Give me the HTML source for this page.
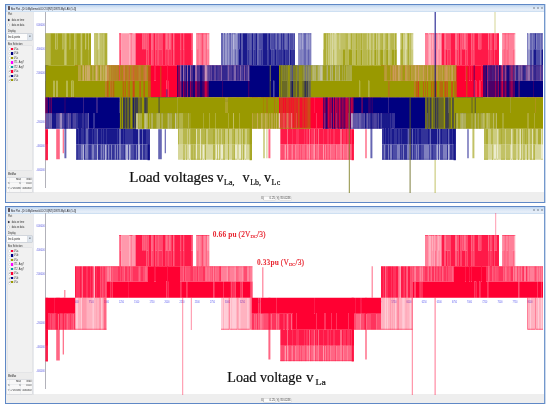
<!DOCTYPE html>
<html lang="en"><head><meta charset="utf-8"><title>Load voltages</title>
<style>
html,body{margin:0;padding:0;background:#fff}
body{width:550px;height:411px;position:relative;overflow:hidden;font-family:"Liberation Sans",sans-serif}
.win{position:absolute;left:5px;width:540px;border:1px solid #5f88c6;border-right:1px solid #7398cc;box-shadow:.6px 0 0 #a9c1e2;box-sizing:border-box;background:#fff;overflow:hidden}
.tb{position:absolute;left:0;right:0;top:0;height:6.5px;background:linear-gradient(#bcd3ee,#d9e6f5 35%,#e9f0f9 75%,#c3d9ef);box-shadow:inset .7px 0 0 #b4cdea}
.ico{position:absolute;left:1.5px;top:1.3px;width:2.3px;height:4px;background:#5c5058;border-radius:.5px}
.tt{position:absolute;left:5.2px;top:1.9px;font-size:3.5px;line-height:4px;color:#15151c;white-space:nowrap;transform:scaleX(.69);transform-origin:0 50%}
.wc{position:absolute;right:1px;top:1.6px;height:3.2px;white-space:nowrap;font-size:0}
.wc i{display:inline-block;width:2.2px;height:2.8px;margin-left:1.7px;background:#7f8896;opacity:.55}
.side{position:absolute;left:0;top:6.5px;width:27px;height:181.7px;background:#ececec;box-shadow:.6px 0 0 #d9dde3}
.lbl{position:absolute;left:1.8px;font-size:3.3px;line-height:3px;color:#2a2a2a;white-space:nowrap;transform:scaleX(.72);transform-origin:0 50%}
.lbl.b{color:#1c1c1c}
.rad{position:absolute;left:1.6px;font-size:3.2px;line-height:3px;color:#2a2a2a;white-space:nowrap;transform:scaleX(.72);transform-origin:0 50%}
.rad i{display:inline-block;width:1.7px;height:1.7px;border-radius:50%;background:#fff;box-shadow:0 0 0 .3px #9aa0a8;margin-right:3.6px;vertical-align:.1px}
.rad i.on{background:#334}
.dd{position:absolute;left:1.2px;width:25px;height:6px;background:#fcfcfc;box-shadow:0 0 0 .4px #aab4c2;font-size:3.1px;line-height:6px;color:#222}
.dd span{position:absolute;left:.8px;top:0;transform:scaleX(.72);transform-origin:0 50%}
.dd b{position:absolute;right:0;top:0;width:4.4px;height:100%;background:#dde5ee;box-shadow:-.4px 0 0 #aab4c2;font-size:2.4px;line-height:5.6px;text-align:center;color:#111;font-weight:normal}
.lst{position:absolute;left:1.6px;width:24.6px;background:#f1f1f1;box-shadow:0 0 0 .4px #dadde2}
.it{position:absolute;left:0;font-size:3.1px;line-height:3.2px;color:#2a2a2a;white-space:nowrap;height:3.2px;transform:scaleX(.74);transform-origin:0 50%}
.it u{display:inline-block;width:1.5px;height:1.5px;background:#fff;box-shadow:0 0 0 .25px #b4bac4;margin:0 1.4px 0 1.2px;vertical-align:.2px;font-size:2.6px;line-height:1.4px;text-decoration:none;color:#111;overflow:visible}
.it s{display:inline-block;width:3.1px;height:2.4px;margin-right:1.1px;vertical-align:-.2px}
.tbl{position:absolute;left:1.4px;width:25px;background:#f8f8f8;box-shadow:0 0 0 .4px #c8ced8}
.tbl .r{position:absolute;left:0;width:25px;height:4.7px;box-shadow:0 .35px 0 #d4d9e0;font-size:2.7px;line-height:4.7px;color:#333;white-space:nowrap;display:flex}
.tbl .r span{display:block;text-align:right;overflow:hidden}
.tbl .r span:nth-child(1){width:3px;text-align:center}
.tbl .r span:nth-child(2){width:10.6px;box-shadow:-.3px 0 0 #d4d9e0}
.tbl .r span:nth-child(3){width:10.6px;box-shadow:-.3px 0 0 #d4d9e0}
.plot{position:absolute;left:27.6px;top:6.5px;right:0;height:181.7px;background:#fff}
.sb{position:absolute;left:0;right:0;top:188.2px;bottom:0;background:#eeeeee;box-shadow:0 -.5px 0 #dedede;font-size:2.8px;line-height:11px;color:#444;text-align:center;white-space:nowrap}
.sb span{margin:0 .5px 0 1.6px}
.sb em{display:inline-block;font-style:normal;background:#fbfbfb;box-shadow:0 0 0 .3px #c8c8c8;width:11px;height:3.4px;line-height:3.4px;text-align:right;vertical-align:.1px}
.cv{position:absolute;left:0;top:0}
.yt{font-size:3.3px;fill:#5c5ce0;font-family:"Liberation Sans",sans-serif}
.xt{font-size:2.7px;fill:#3c3cf0;fill-opacity:.85;font-family:"Liberation Sans",sans-serif}
.cap{font-family:"Liberation Serif","DejaVu Serif",serif;fill:#111;stroke:#111;stroke-width:.22px}
.c1{font-size:14.2px}.c2{font-size:15.3px}
.c1 .sub{font-size:7.9px}.c2 .sub{font-size:8.8px}
.ann{font-family:"Liberation Serif",serif;font-weight:bold;font-size:7.4px;fill:#e8242f;letter-spacing:.12px}
.ann .n{font-weight:normal;stroke:#e8242f;stroke-width:.18px}
.ann .s{font-size:4.6px}
</style></head><body>
<div class="win" style="top:4px;height:199.0px">
<div class="tb"><span class="ico"></span><span class="tt">Box Plot - [D:\0.MyDemos\0.DC74(INT)\2INT3.MyU.AS (5.4)]</span><span class="wc"><i></i><i></i><i></i></span></div>
<div class="side">
<div class="lbl" style="top:1.5px">Plot</div>
<div class="rad" style="top:7.3px"><i class="on"></i>data vs time</div>
<div class="rad" style="top:12.4px"><i></i>data vs data</div>
<div class="lbl" style="top:18.4px">Display</div>
<div class="dd" style="top:22.3px"><span>line &amp; points</span><b>&#9660;</b></div>
<div class="lbl" style="top:31.5px">Box Selection</div>
<div class="lst" style="top:34.5px;height:124px">
<div class="it" style="top:1.90px"><u></u><s style="background:#ff0033"></s>VLa</div>
<div class="it" style="top:6.35px"><u></u><s style="background:#000080"></s>VLb</div>
<div class="it" style="top:10.80px"><u></u><s style="background:#999900"></s>VLc</div>
<div class="it" style="top:15.25px"><u></u><s style="background:#ff00ff"></s>IT1_Avg7</div>
<div class="it" style="top:19.70px"><u></u><s style="background:#009999"></s>IT2_Avg7</div>
<div class="it" style="top:24.15px"><u>&#10003;</u><s style="background:#ff0033"></s>VLa</div>
<div class="it" style="top:28.60px"><u>&#10003;</u><s style="background:#000080"></s>VLb</div>
<div class="it" style="top:33.05px"><u>&#10003;</u><s style="background:#999900"></s>VLc</div>
</div>
<div class="lbl b" style="top:161.6px">MinMax</div>
<div class="tbl" style="top:166.2px;height:14px"><div class="r" style="top:0"><span></span><span>Max</span><span>Max</span></div><div class="r" style="top:4.6px"><span>X</span><span>0</span><span>0.03</span></div><div class="r" style="top:9.3px"><span>Y</span><span>-716.6666</span><span>400000</span></div></div>
</div>
<div class="plot"></div>
<div class="sb"><span>X|</span><em>0.25</em><span>Y|</span><em>80.0246</em></div>
</div>
<div class="win" style="top:206px;height:198.4px">
<div class="tb"><span class="ico"></span><span class="tt">Box Plot - [D:\0.MyDemos\0.DC74(INT)\2INT3.MyU.AS (5.4)]</span><span class="wc"><i></i><i></i><i></i></span></div>
<div class="side">
<div class="lbl" style="top:1.5px">Plot</div>
<div class="rad" style="top:7.3px"><i class="on"></i>data vs time</div>
<div class="rad" style="top:12.4px"><i></i>data vs data</div>
<div class="lbl" style="top:18.4px">Display</div>
<div class="dd" style="top:22.3px"><span>line &amp; points</span><b>&#9660;</b></div>
<div class="lbl" style="top:31.5px">Box Selection</div>
<div class="lst" style="top:34.5px;height:124px">
<div class="it" style="top:1.90px"><u></u><s style="background:#ff0033"></s>VLa</div>
<div class="it" style="top:6.35px"><u></u><s style="background:#000080"></s>VLb</div>
<div class="it" style="top:10.80px"><u></u><s style="background:#999900"></s>VLc</div>
<div class="it" style="top:15.25px"><u></u><s style="background:#ff00ff"></s>IT1_Avg7</div>
<div class="it" style="top:19.70px"><u></u><s style="background:#009999"></s>IT2_Avg7</div>
<div class="it" style="top:24.15px"><u>&#10003;</u><s style="background:#ff0033"></s>VLa</div>
<div class="it" style="top:28.60px"><u>&#10003;</u><s style="background:#000080"></s>VLb</div>
<div class="it" style="top:33.05px"><u>&#10003;</u><s style="background:#999900"></s>VLc</div>
</div>
<div class="lbl b" style="top:161.6px">MinMax</div>
<div class="tbl" style="top:166.2px;height:14px"><div class="r" style="top:0"><span></span><span>Max</span><span>Max</span></div><div class="r" style="top:4.6px"><span>X</span><span>0</span><span>0.03</span></div><div class="r" style="top:9.3px"><span>Y</span><span>-716.6666</span><span>400000</span></div></div>
</div>
<div class="plot"></div>
<div class="sb"><span>X|</span><em>0.25</em><span>Y|</span><em>80.0246</em></div>
</div>
<svg class="cv" width="550" height="411" viewBox="0 0 550 411">
<defs><filter id="soft" x="-2%" y="-2%" width="104%" height="104%"><feGaussianBlur stdDeviation="0.45 0.12"/></filter></defs>
<g id="p1">
<rect x="45" y="12.0" width="1" height="176.0" fill="#b2b2ba"/>
<text x="44.8" y="25.7" class="yt" text-anchor="end" textLength="8.2" lengthAdjust="spacingAndGlyphs">600000</text>
<text x="44.8" y="49.9" class="yt" text-anchor="end" textLength="8.2" lengthAdjust="spacingAndGlyphs">400000</text>
<text x="44.8" y="74.1" class="yt" text-anchor="end" textLength="8.2" lengthAdjust="spacingAndGlyphs">200000</text>
<text x="44.8" y="122.5" class="yt" text-anchor="end" textLength="8.2" lengthAdjust="spacingAndGlyphs">-200000</text>
<text x="44.8" y="146.7" class="yt" text-anchor="end" textLength="8.2" lengthAdjust="spacingAndGlyphs">-400000</text>
<text x="44.8" y="170.9" class="yt" text-anchor="end" textLength="8.2" lengthAdjust="spacingAndGlyphs">-600000</text>
<text x="61.1" y="101.9" class="xt" text-anchor="middle" textLength="5" lengthAdjust="spacingAndGlyphs">250</text>
<text x="76.2" y="101.9" class="xt" text-anchor="middle" textLength="5" lengthAdjust="spacingAndGlyphs">500</text>
<text x="91.3" y="101.9" class="xt" text-anchor="middle" textLength="5" lengthAdjust="spacingAndGlyphs">750</text>
<text x="106.5" y="101.9" class="xt" text-anchor="middle" textLength="5" lengthAdjust="spacingAndGlyphs">1000</text>
<text x="121.6" y="101.9" class="xt" text-anchor="middle" textLength="5" lengthAdjust="spacingAndGlyphs">1250</text>
<text x="136.7" y="101.9" class="xt" text-anchor="middle" textLength="5" lengthAdjust="spacingAndGlyphs">1500</text>
<text x="151.9" y="101.9" class="xt" text-anchor="middle" textLength="5" lengthAdjust="spacingAndGlyphs">1750</text>
<text x="167.0" y="101.9" class="xt" text-anchor="middle" textLength="5" lengthAdjust="spacingAndGlyphs">2000</text>
<text x="182.1" y="101.9" class="xt" text-anchor="middle" textLength="5" lengthAdjust="spacingAndGlyphs">2250</text>
<text x="197.2" y="101.9" class="xt" text-anchor="middle" textLength="5" lengthAdjust="spacingAndGlyphs">2500</text>
<text x="212.4" y="101.9" class="xt" text-anchor="middle" textLength="5" lengthAdjust="spacingAndGlyphs">2750</text>
<text x="227.5" y="101.9" class="xt" text-anchor="middle" textLength="5" lengthAdjust="spacingAndGlyphs">3000</text>
<text x="242.6" y="101.9" class="xt" text-anchor="middle" textLength="5" lengthAdjust="spacingAndGlyphs">3250</text>
<text x="257.8" y="101.9" class="xt" text-anchor="middle" textLength="5" lengthAdjust="spacingAndGlyphs">3500</text>
<text x="272.9" y="101.9" class="xt" text-anchor="middle" textLength="5" lengthAdjust="spacingAndGlyphs">3750</text>
<text x="288.0" y="101.9" class="xt" text-anchor="middle" textLength="5" lengthAdjust="spacingAndGlyphs">4000</text>
<text x="303.2" y="101.9" class="xt" text-anchor="middle" textLength="5" lengthAdjust="spacingAndGlyphs">4250</text>
<text x="318.3" y="101.9" class="xt" text-anchor="middle" textLength="5" lengthAdjust="spacingAndGlyphs">4500</text>
<text x="333.4" y="101.9" class="xt" text-anchor="middle" textLength="5" lengthAdjust="spacingAndGlyphs">4750</text>
<text x="348.6" y="101.9" class="xt" text-anchor="middle" textLength="5" lengthAdjust="spacingAndGlyphs">5000</text>
<text x="363.7" y="101.9" class="xt" text-anchor="middle" textLength="5" lengthAdjust="spacingAndGlyphs">5250</text>
<text x="378.8" y="101.9" class="xt" text-anchor="middle" textLength="5" lengthAdjust="spacingAndGlyphs">5500</text>
<text x="393.9" y="101.9" class="xt" text-anchor="middle" textLength="5" lengthAdjust="spacingAndGlyphs">5750</text>
<text x="409.1" y="101.9" class="xt" text-anchor="middle" textLength="5" lengthAdjust="spacingAndGlyphs">6000</text>
<text x="424.2" y="101.9" class="xt" text-anchor="middle" textLength="5" lengthAdjust="spacingAndGlyphs">6250</text>
<text x="439.3" y="101.9" class="xt" text-anchor="middle" textLength="5" lengthAdjust="spacingAndGlyphs">6500</text>
<text x="454.5" y="101.9" class="xt" text-anchor="middle" textLength="5" lengthAdjust="spacingAndGlyphs">6750</text>
<text x="469.6" y="101.9" class="xt" text-anchor="middle" textLength="5" lengthAdjust="spacingAndGlyphs">7000</text>
<text x="484.7" y="101.9" class="xt" text-anchor="middle" textLength="5" lengthAdjust="spacingAndGlyphs">7250</text>
<text x="499.9" y="101.9" class="xt" text-anchor="middle" textLength="5" lengthAdjust="spacingAndGlyphs">7500</text>
<text x="515.0" y="101.9" class="xt" text-anchor="middle" textLength="5" lengthAdjust="spacingAndGlyphs">7750</text>
<text x="530.1" y="101.9" class="xt" text-anchor="middle" textLength="5" lengthAdjust="spacingAndGlyphs">8000</text>
<g filter="url(#soft)">
<path fill="#ff0033" fill-opacity="0.1" d="M75.0 65.2h18.0v1h-18.0zM95.0 65.2h11.5v1h-11.5zM381.0 65.2h18.0v1h-18.0zM401.0 65.2h11.5v1h-11.5z"/>
<path fill="#ff0033" fill-opacity="0.2" d="M76.0 97.2h2.0v31.5h-2.0zM80.9 97.2h1.0v31.5h-1.0zM92.7 97.2h1.0v31.5h-1.0zM100.6 97.2h1.0v31.5h-1.0zM221.0 97.2h2.0v31.5h-2.0zM224.1 97.2h4.1v31.5h-4.1zM230.2 97.2h1.0v31.5h-1.0zM232.2 97.2h4.1v31.5h-4.1zM239.3 97.2h1.0v31.5h-1.0zM247.4 97.2h1.0v31.5h-1.0zM384.9 97.2h1.0v31.5h-1.0zM386.9 97.2h1.0v31.5h-1.0zM394.8 97.2h1.0v31.5h-1.0zM402.7 97.2h2.0v31.5h-2.0zM409.5 97.2h2.0v31.5h-2.0zM530.0 97.2h1.0v31.5h-1.0zM538.0 97.2h1.0v31.5h-1.0zM541.0 97.2h1.0v31.5h-1.0zM48.0 127.7h27.0v1h-27.0zM135.5 33.2h57.5v1h-57.5zM119.0 65.2h29.0v1h-29.0zM180.0 65.2h29.3v1h-29.3zM251.5 127.7h28.5v1h-28.5zM354.0 127.7h27.0v1h-27.0zM441.5 33.2h57.5v1h-57.5zM425.0 65.2h29.0v1h-29.0zM486.0 65.2h29.3v1h-29.3z"/>
<path fill="#ff0033" fill-opacity="0.3" d="M94.0 65.2h1.0v32.0h-1.0zM78.0 97.2h3.0v31.5h-3.0zM86.8 97.2h5.9v31.5h-5.9zM93.7 97.2h2.0v31.5h-2.0zM96.7 97.2h3.0v31.5h-3.0zM101.6 97.2h2.0v31.5h-2.0zM129.3 33.2h1.0v16.0h-1.0zM129.3 49.2h1.0v16.0h-1.0zM207.3 33.2h1.0v16.0h-1.0zM223.0 97.2h1.0v31.5h-1.0zM228.1 97.2h1.0v31.5h-1.0zM231.2 97.2h1.0v31.5h-1.0zM236.2 97.2h1.0v31.5h-1.0zM238.3 97.2h1.0v31.5h-1.0zM240.3 97.2h7.1v31.5h-7.1zM248.4 97.2h1.0v31.5h-1.0zM381.0 97.2h3.9v31.5h-3.9zM385.9 97.2h1.0v31.5h-1.0zM387.9 97.2h2.0v31.5h-2.0zM390.8 97.2h1.0v31.5h-1.0zM392.8 97.2h1.0v31.5h-1.0zM395.8 97.2h1.0v31.5h-1.0zM398.7 97.2h3.9v31.5h-3.9zM404.6 97.2h1.0v31.5h-1.0zM406.6 97.2h3.0v31.5h-3.0zM429.1 33.2h2.1v16.0h-2.1zM432.2 33.2h1.0v16.0h-1.0zM438.4 33.2h1.0v16.0h-1.0zM429.1 49.2h2.1v16.0h-2.1zM514.3 33.2h1.0v16.0h-1.0zM528.0 97.2h2.0v31.5h-2.0zM531.0 97.2h4.0v31.5h-4.0zM536.0 97.2h2.0v31.5h-2.0zM539.0 97.2h2.0v31.5h-2.0zM542.0 97.2h1.0v31.5h-1.0zM45.5 158.7h2.5v1h-2.5zM106.5 65.2h12.5v1h-12.5zM209.3 65.2h11.7v1h-11.7zM221.0 65.2h31.5v1h-31.5zM280.0 158.7h74.0v1h-74.0zM412.5 65.2h12.5v1h-12.5zM515.3 65.2h11.7v1h-11.7zM527.0 65.2h16.0v1h-16.0z"/>
<path fill="#ff0033" fill-opacity="0.4" d="M75.0 97.2h1.0v31.5h-1.0zM81.9 97.2h4.9v31.5h-4.9zM95.7 97.2h1.0v31.5h-1.0zM121.1 33.2h8.2v16.0h-8.2zM132.4 33.2h3.1v16.0h-3.1zM121.1 49.2h8.2v16.0h-8.2zM132.4 49.2h3.1v16.0h-3.1zM226.9 65.2h1.0v15.5h-1.0zM234.8 65.2h1.0v15.5h-1.0zM285.0 144.5h1.0v15.3h-1.0zM287.0 144.5h1.0v15.3h-1.0zM309.0 144.5h1.0v15.3h-1.0zM314.0 144.5h1.0v15.3h-1.0zM323.0 144.5h1.0v15.3h-1.0zM400.0 65.2h1.0v32.0h-1.0zM389.9 97.2h1.0v31.5h-1.0zM391.8 97.2h1.0v31.5h-1.0zM393.8 97.2h1.0v31.5h-1.0zM396.8 97.2h1.0v31.5h-1.0zM405.6 97.2h1.0v31.5h-1.0zM411.5 97.2h1.0v31.5h-1.0zM428.1 33.2h1.0v16.0h-1.0zM434.3 33.2h1.0v16.0h-1.0zM437.4 33.2h1.0v16.0h-1.0zM440.5 33.2h1.0v16.0h-1.0zM428.1 49.2h1.0v16.0h-1.0zM432.2 49.2h1.0v16.0h-1.0zM434.3 49.2h1.0v16.0h-1.0zM437.4 49.2h2.1v16.0h-2.1zM440.5 49.2h1.0v16.0h-1.0zM514.3 49.2h1.0v16.0h-1.0zM119.0 33.2h16.5v1h-16.5zM196.3 33.2h13.0v1h-13.0zM425.0 33.2h16.5v1h-16.5zM502.3 33.2h13.0v1h-13.0zM262.0 66.2h1.5v31.0h-1.5zM371.5 65.2h1.5v32.0h-1.5z"/>
<path fill="#ff0033" fill-opacity="0.5" d="M45.5 144.5h1.2v15.3h-1.2zM107.5 65.2h1.0v15.5h-1.0zM109.6 65.2h1.0v15.5h-1.0zM119.0 33.2h1.0v16.0h-1.0zM130.3 33.2h2.1v16.0h-2.1zM119.0 49.2h1.0v16.0h-1.0zM130.3 49.2h2.1v16.0h-2.1zM197.3 33.2h1.0v16.0h-1.0zM199.3 33.2h2.0v16.0h-2.0zM204.3 33.2h1.0v16.0h-1.0zM208.3 33.2h1.0v16.0h-1.0zM199.3 49.2h2.0v16.0h-2.0zM204.3 49.2h1.0v16.0h-1.0zM207.3 49.2h1.0v16.0h-1.0zM213.2 65.2h1.0v15.5h-1.0zM221.0 65.2h5.9v15.5h-5.9zM229.9 65.2h4.9v15.5h-4.9zM238.7 65.2h3.9v15.5h-3.9zM247.6 65.2h1.0v15.5h-1.0zM250.5 65.2h2.0v15.5h-2.0zM229.1 97.2h1.0v31.5h-1.0zM237.3 97.2h1.0v31.5h-1.0zM249.5 97.2h2.0v31.5h-2.0zM280.0 144.5h1.0v15.3h-1.0zM292.0 144.5h1.0v15.3h-1.0zM295.0 144.5h1.0v15.3h-1.0zM307.0 144.5h1.0v15.3h-1.0zM313.0 144.5h1.0v15.3h-1.0zM318.0 144.5h1.0v15.3h-1.0zM325.0 144.5h1.0v15.3h-1.0zM330.0 144.5h1.0v15.3h-1.0zM336.0 144.5h1.0v15.3h-1.0zM340.0 144.5h2.0v15.3h-2.0zM343.0 144.5h1.0v15.3h-1.0zM347.0 144.5h1.0v15.3h-1.0zM351.0 144.5h1.0v15.3h-1.0zM360.0 113.0h1.0v15.8h-1.0zM399.0 65.2h1.0v32.0h-1.0zM414.6 65.2h1.0v15.5h-1.0zM419.8 65.2h1.0v15.5h-1.0zM421.9 65.2h1.0v15.5h-1.0zM425.0 33.2h3.1v16.0h-3.1zM431.2 33.2h1.0v16.0h-1.0zM433.2 33.2h1.0v16.0h-1.0zM435.3 33.2h2.1v16.0h-2.1zM439.4 33.2h1.0v16.0h-1.0zM425.0 49.2h3.1v16.0h-3.1zM431.2 49.2h1.0v16.0h-1.0zM433.2 49.2h1.0v16.0h-1.0zM436.3 49.2h1.0v16.0h-1.0zM439.4 49.2h1.0v16.0h-1.0zM455.4 33.2h1.0v16.0h-1.0zM503.3 33.2h1.0v16.0h-1.0zM506.3 33.2h2.0v16.0h-2.0zM509.3 33.2h5.0v16.0h-5.0zM509.3 49.2h3.0v16.0h-3.0zM515.3 65.2h1.0v15.5h-1.0zM521.1 65.2h1.0v15.5h-1.0zM524.1 65.2h2.0v15.5h-2.0zM528.0 65.2h1.0v15.5h-1.0zM530.0 65.2h4.0v15.5h-4.0zM537.0 65.2h1.0v15.5h-1.0zM539.0 65.2h1.0v15.5h-1.0zM541.0 65.2h1.0v15.5h-1.0zM527.0 97.2h1.0v31.5h-1.0zM535.0 97.2h1.0v31.5h-1.0zM75.0 127.7h31.5v1h-31.5zM221.0 127.7h30.5v1h-30.5zM381.0 127.7h31.5v1h-31.5zM527.0 127.7h16.0v1h-16.0zM64.2 89.2h1.2v8.0h-1.2z"/>
<path fill="#ff0033" fill-opacity="0.6" d="M46.8 144.5h1.2v15.3h-1.2zM58.0 113.0h1.0v15.8h-1.0zM67.0 113.0h1.0v15.8h-1.0zM73.0 113.0h1.0v15.8h-1.0zM82.0 65.2h1.0v32.0h-1.0zM93.0 65.2h1.0v32.0h-1.0zM99.6 97.2h1.0v31.5h-1.0zM103.5 97.2h3.0v31.5h-3.0zM120.0 33.2h1.0v16.0h-1.0zM151.4 33.2h2.0v16.0h-2.0zM166.2 33.2h1.0v16.0h-1.0zM169.2 33.2h1.0v16.0h-1.0zM173.2 33.2h1.0v16.0h-1.0zM192.0 33.2h1.0v16.0h-1.0zM196.3 33.2h1.0v16.0h-1.0zM198.3 33.2h1.0v16.0h-1.0zM203.3 33.2h1.0v16.0h-1.0zM205.3 33.2h2.0v16.0h-2.0zM196.3 49.2h1.0v16.0h-1.0zM198.3 49.2h1.0v16.0h-1.0zM203.3 49.2h1.0v16.0h-1.0zM205.3 49.2h2.0v16.0h-2.0zM208.3 49.2h1.0v16.0h-1.0zM124.0 65.2h1.0v15.5h-1.0zM130.0 65.2h1.0v15.5h-1.0zM139.0 65.2h1.0v15.5h-1.0zM145.0 65.2h2.0v15.5h-2.0zM183.0 65.2h1.0v15.5h-1.0zM206.3 65.2h2.0v15.5h-2.0zM209.3 65.2h1.0v15.5h-1.0zM211.2 65.2h1.0v15.5h-1.0zM215.2 65.2h3.9v15.5h-3.9zM227.9 65.2h2.0v15.5h-2.0zM236.8 65.2h2.0v15.5h-2.0zM242.7 65.2h1.0v15.5h-1.0zM248.6 65.2h1.0v15.5h-1.0zM260.7 113.0h1.0v15.8h-1.0zM275.9 113.0h1.0v15.8h-1.0zM287.0 113.0h1.0v15.8h-1.0zM291.0 113.0h1.0v15.8h-1.0zM280.0 128.7h1.0v15.8h-1.0zM287.0 128.7h1.0v15.8h-1.0zM309.0 128.7h1.0v15.8h-1.0zM314.0 128.7h1.0v15.8h-1.0zM318.0 128.7h1.0v15.8h-1.0zM340.0 128.7h2.0v15.8h-2.0zM284.0 144.5h1.0v15.3h-1.0zM288.0 144.5h1.0v15.3h-1.0zM291.0 144.5h1.0v15.3h-1.0zM296.0 144.5h3.0v15.3h-3.0zM300.0 144.5h1.0v15.3h-1.0zM302.0 144.5h3.0v15.3h-3.0zM306.0 144.5h1.0v15.3h-1.0zM308.0 144.5h1.0v15.3h-1.0zM311.0 144.5h2.0v15.3h-2.0zM316.0 144.5h2.0v15.3h-2.0zM327.0 144.5h2.0v15.3h-2.0zM331.0 144.5h4.0v15.3h-4.0zM337.0 144.5h3.0v15.3h-3.0zM344.0 144.5h3.0v15.3h-3.0zM348.0 144.5h3.0v15.3h-3.0zM352.0 144.5h2.0v15.3h-2.0zM356.0 113.0h4.0v15.8h-4.0zM366.0 113.0h1.0v15.8h-1.0zM376.0 113.0h1.0v15.8h-1.0zM385.0 65.2h1.0v32.0h-1.0zM398.0 65.2h1.0v32.0h-1.0zM406.8 65.2h1.0v32.0h-1.0zM397.7 97.2h1.0v31.5h-1.0zM444.5 33.2h1.0v16.0h-1.0zM464.3 33.2h1.0v16.0h-1.0zM471.2 33.2h1.0v16.0h-1.0zM488.1 33.2h1.0v16.0h-1.0zM494.0 33.2h1.0v16.0h-1.0zM502.3 33.2h1.0v16.0h-1.0zM504.3 33.2h1.0v16.0h-1.0zM503.3 49.2h2.0v16.0h-2.0zM506.3 49.2h2.0v16.0h-2.0zM512.3 49.2h2.0v16.0h-2.0zM428.0 65.2h1.0v15.5h-1.0zM431.0 65.2h1.0v15.5h-1.0zM434.0 65.2h1.0v15.5h-1.0zM442.0 65.2h1.0v15.5h-1.0zM452.0 65.2h1.0v15.5h-1.0zM488.0 65.2h1.0v15.5h-1.0zM505.2 65.2h1.0v15.5h-1.0zM513.3 65.2h1.0v15.5h-1.0zM516.3 65.2h1.0v15.5h-1.0zM518.2 65.2h2.0v15.5h-2.0zM527.0 65.2h1.0v15.5h-1.0zM529.0 65.2h1.0v15.5h-1.0zM534.0 65.2h1.0v15.5h-1.0zM536.0 65.2h1.0v15.5h-1.0zM538.0 65.2h1.0v15.5h-1.0zM540.0 65.2h1.0v15.5h-1.0zM542.0 65.2h1.0v15.5h-1.0zM56.2 97.2h3.6v62.1h-3.6zM62.7 97.2h1.2v56.1h-1.2zM268.4 97.2h2.0v61.1h-2.0zM365.3 97.2h1.4v61.1h-1.4z"/>
<path fill="#ff0033" fill-opacity="0.7" d="M50.0 113.0h1.0v15.8h-1.0zM52.0 113.0h3.0v15.8h-3.0zM57.0 113.0h1.0v15.8h-1.0zM60.0 113.0h5.0v15.8h-5.0zM66.0 113.0h1.0v15.8h-1.0zM68.0 113.0h2.0v15.8h-2.0zM71.0 113.0h2.0v15.8h-2.0zM106.5 65.2h1.0v15.5h-1.0zM110.7 65.2h2.1v15.5h-2.1zM113.8 65.2h4.2v15.5h-4.2zM120.0 49.2h1.0v16.0h-1.0zM142.4 33.2h1.0v16.0h-1.0zM144.4 33.2h1.0v16.0h-1.0zM146.4 33.2h2.0v16.0h-2.0zM155.3 33.2h2.0v16.0h-2.0zM158.3 33.2h4.0v16.0h-4.0zM165.2 33.2h1.0v16.0h-1.0zM167.2 33.2h2.0v16.0h-2.0zM170.2 33.2h1.0v16.0h-1.0zM180.1 33.2h1.0v16.0h-1.0zM183.1 33.2h1.0v16.0h-1.0zM191.0 33.2h1.0v16.0h-1.0zM151.4 49.2h2.0v16.0h-2.0zM173.2 49.2h1.0v16.0h-1.0zM192.0 49.2h1.0v16.0h-1.0zM201.3 33.2h2.0v16.0h-2.0zM197.3 49.2h1.0v16.0h-1.0zM201.3 49.2h2.0v16.0h-2.0zM120.0 65.2h1.0v15.5h-1.0zM122.0 65.2h2.0v15.5h-2.0zM127.0 65.2h2.0v15.5h-2.0zM131.0 65.2h2.0v15.5h-2.0zM138.0 65.2h1.0v15.5h-1.0zM140.0 65.2h1.0v15.5h-1.0zM143.0 65.2h2.0v15.5h-2.0zM147.0 65.2h1.0v15.5h-1.0zM180.0 65.2h3.0v15.5h-3.0zM185.1 65.2h5.1v15.5h-5.1zM193.1 65.2h3.0v15.5h-3.0zM198.2 65.2h4.0v15.5h-4.0zM205.3 65.2h1.0v15.5h-1.0zM208.3 65.2h1.0v15.5h-1.0zM235.8 65.2h1.0v15.5h-1.0zM243.6 65.2h3.9v15.5h-3.9zM249.5 65.2h1.0v15.5h-1.0zM254.6 113.0h2.0v15.8h-2.0zM258.6 113.0h2.0v15.8h-2.0zM261.7 113.0h1.0v15.8h-1.0zM263.7 113.0h8.1v15.8h-8.1zM276.9 113.0h2.0v15.8h-2.0zM281.0 144.5h3.0v15.3h-3.0zM286.0 144.5h1.0v15.3h-1.0zM289.0 144.5h2.0v15.3h-2.0zM293.0 144.5h2.0v15.3h-2.0zM299.0 144.5h1.0v15.3h-1.0zM301.0 144.5h1.0v15.3h-1.0zM305.0 144.5h1.0v15.3h-1.0zM310.0 144.5h1.0v15.3h-1.0zM315.0 144.5h1.0v15.3h-1.0zM319.0 144.5h4.0v15.3h-4.0zM324.0 144.5h1.0v15.3h-1.0zM326.0 144.5h1.0v15.3h-1.0zM329.0 144.5h1.0v15.3h-1.0zM335.0 144.5h1.0v15.3h-1.0zM342.0 144.5h1.0v15.3h-1.0zM354.0 113.0h2.0v15.8h-2.0zM361.0 113.0h3.0v15.8h-3.0zM367.0 113.0h4.0v15.8h-4.0zM377.0 113.0h4.0v15.8h-4.0zM412.5 65.2h2.1v15.5h-2.1zM415.6 65.2h4.2v15.5h-4.2zM420.8 65.2h1.0v15.5h-1.0zM422.9 65.2h2.1v15.5h-2.1zM435.3 49.2h1.0v16.0h-1.0zM445.5 33.2h5.0v16.0h-5.0zM456.4 33.2h2.0v16.0h-2.0zM460.3 33.2h1.0v16.0h-1.0zM462.3 33.2h2.0v16.0h-2.0zM465.3 33.2h2.0v16.0h-2.0zM473.2 33.2h1.0v16.0h-1.0zM478.2 33.2h3.0v16.0h-3.0zM490.1 33.2h2.0v16.0h-2.0zM495.0 33.2h2.0v16.0h-2.0zM455.4 49.2h1.0v16.0h-1.0zM471.2 49.2h1.0v16.0h-1.0zM494.0 49.2h1.0v16.0h-1.0zM505.3 33.2h1.0v16.0h-1.0zM508.3 33.2h1.0v16.0h-1.0zM502.3 49.2h1.0v16.0h-1.0zM505.3 49.2h1.0v16.0h-1.0zM508.3 49.2h1.0v16.0h-1.0zM427.0 65.2h1.0v15.5h-1.0zM430.0 65.2h1.0v15.5h-1.0zM436.0 65.2h2.0v15.5h-2.0zM439.0 65.2h2.0v15.5h-2.0zM443.0 65.2h1.0v15.5h-1.0zM446.0 65.2h1.0v15.5h-1.0zM448.0 65.2h4.0v15.5h-4.0zM453.0 65.2h1.0v15.5h-1.0zM489.0 65.2h1.0v15.5h-1.0zM492.1 65.2h2.0v15.5h-2.0zM495.1 65.2h3.0v15.5h-3.0zM503.2 65.2h2.0v15.5h-2.0zM506.2 65.2h2.0v15.5h-2.0zM509.2 65.2h1.0v15.5h-1.0zM535.0 65.2h1.0v15.5h-1.0z"/>
<path fill="#ff0033" fill-opacity="0.8" d="M48.0 113.0h2.0v15.8h-2.0zM51.0 113.0h1.0v15.8h-1.0zM55.0 113.0h2.0v15.8h-2.0zM59.0 113.0h1.0v15.8h-1.0zM65.0 113.0h1.0v15.8h-1.0zM70.0 113.0h1.0v15.8h-1.0zM74.0 113.0h1.0v15.8h-1.0zM76.0 65.2h4.0v32.0h-4.0zM81.0 65.2h1.0v32.0h-1.0zM86.0 65.2h2.0v32.0h-2.0zM90.0 65.2h1.0v32.0h-1.0zM92.0 65.2h1.0v32.0h-1.0zM96.0 65.2h1.0v32.0h-1.0zM100.8 65.2h1.9v32.0h-1.9zM103.6 65.2h1.9v32.0h-1.9zM108.6 65.2h1.0v15.5h-1.0zM112.8 65.2h1.0v15.5h-1.0zM118.0 65.2h1.0v15.5h-1.0zM146.4 49.2h2.0v16.0h-2.0zM155.3 49.2h2.0v16.0h-2.0zM158.3 49.2h4.0v16.0h-4.0zM165.2 49.2h2.0v16.0h-2.0zM168.2 49.2h3.0v16.0h-3.0zM180.1 49.2h1.0v16.0h-1.0zM183.1 49.2h1.0v16.0h-1.0zM191.0 49.2h1.0v16.0h-1.0zM119.0 65.2h1.0v15.5h-1.0zM121.0 65.2h1.0v15.5h-1.0zM125.0 65.2h2.0v15.5h-2.0zM129.0 65.2h1.0v15.5h-1.0zM133.0 65.2h5.0v15.5h-5.0zM141.0 65.2h2.0v15.5h-2.0zM184.0 65.2h1.0v15.5h-1.0zM190.1 65.2h3.0v15.5h-3.0zM196.2 65.2h2.0v15.5h-2.0zM202.2 65.2h3.0v15.5h-3.0zM210.3 65.2h1.0v15.5h-1.0zM212.2 65.2h1.0v15.5h-1.0zM214.2 65.2h1.0v15.5h-1.0zM219.1 65.2h1.9v15.5h-1.9zM213.2 80.7h1.0v16.5h-1.0zM223.0 80.7h1.0v16.5h-1.0zM230.8 80.7h1.0v16.5h-1.0zM232.8 80.7h3.0v16.5h-3.0zM240.7 80.7h2.0v16.5h-2.0zM250.5 80.7h1.0v16.5h-1.0zM251.5 113.0h3.1v15.8h-3.1zM256.6 113.0h2.0v15.8h-2.0zM262.7 113.0h1.0v15.8h-1.0zM271.9 113.0h4.1v15.8h-4.1zM279.0 113.0h1.0v15.8h-1.0zM283.0 113.0h2.0v15.8h-2.0zM286.0 113.0h1.0v15.8h-1.0zM288.0 113.0h1.0v15.8h-1.0zM296.0 113.0h1.0v15.8h-1.0zM316.0 113.0h1.0v15.8h-1.0zM324.0 113.0h2.0v15.8h-2.0zM331.0 113.0h1.0v15.8h-1.0zM336.0 113.0h1.0v15.8h-1.0zM348.0 113.0h1.0v15.8h-1.0zM292.0 128.7h1.0v15.8h-1.0zM296.0 128.7h3.0v15.8h-3.0zM304.0 128.7h1.0v15.8h-1.0zM306.0 128.7h2.0v15.8h-2.0zM311.0 128.7h3.0v15.8h-3.0zM316.0 128.7h1.0v15.8h-1.0zM323.0 128.7h1.0v15.8h-1.0zM327.0 128.7h2.0v15.8h-2.0zM330.0 128.7h1.0v15.8h-1.0zM333.0 128.7h2.0v15.8h-2.0zM343.0 128.7h3.0v15.8h-3.0zM347.0 128.7h3.0v15.8h-3.0zM351.0 128.7h1.0v15.8h-1.0zM364.0 113.0h2.0v15.8h-2.0zM371.0 113.0h5.0v15.8h-5.0zM383.0 65.2h1.0v32.0h-1.0zM386.0 65.2h2.0v32.0h-2.0zM391.0 65.2h1.0v32.0h-1.0zM393.0 65.2h3.0v32.0h-3.0zM403.9 65.2h1.0v32.0h-1.0zM410.6 65.2h1.0v32.0h-1.0zM444.5 49.2h1.0v16.0h-1.0zM447.4 49.2h3.0v16.0h-3.0zM456.4 49.2h2.0v16.0h-2.0zM460.3 49.2h1.0v16.0h-1.0zM465.3 49.2h2.0v16.0h-2.0zM473.2 49.2h1.0v16.0h-1.0zM488.1 49.2h1.0v16.0h-1.0zM490.1 49.2h2.0v16.0h-2.0zM425.0 65.2h2.0v15.5h-2.0zM429.0 65.2h1.0v15.5h-1.0zM432.0 65.2h2.0v15.5h-2.0zM435.0 65.2h1.0v15.5h-1.0zM438.0 65.2h1.0v15.5h-1.0zM441.0 65.2h1.0v15.5h-1.0zM444.0 65.2h2.0v15.5h-2.0zM447.0 65.2h1.0v15.5h-1.0zM486.0 65.2h2.0v15.5h-2.0zM490.0 65.2h2.0v15.5h-2.0zM494.1 65.2h1.0v15.5h-1.0zM498.1 65.2h5.1v15.5h-5.1zM508.2 65.2h1.0v15.5h-1.0zM510.2 65.2h3.0v15.5h-3.0zM514.3 65.2h1.0v15.5h-1.0zM517.2 65.2h1.0v15.5h-1.0zM520.2 65.2h1.0v15.5h-1.0zM522.1 65.2h2.0v15.5h-2.0zM526.0 65.2h1.0v15.5h-1.0zM518.2 80.7h1.0v16.5h-1.0zM537.0 80.7h1.0v16.5h-1.0zM541.0 80.7h1.0v16.5h-1.0zM45.6 97.2h2.2v63.0h-2.2zM351.6 97.2h2.2v63.0h-2.2z"/>
<path fill="#ff0033" fill-opacity="0.9" d="M45.5 128.7h2.5v15.8h-2.5zM54.0 97.2h1.0v15.8h-1.0zM75.0 65.2h1.0v32.0h-1.0zM80.0 65.2h1.0v32.0h-1.0zM83.0 65.2h3.0v32.0h-3.0zM88.0 65.2h2.0v32.0h-2.0zM91.0 65.2h1.0v32.0h-1.0zM95.0 65.2h1.0v32.0h-1.0zM96.9 65.2h3.8v32.0h-3.8zM102.7 65.2h1.0v32.0h-1.0zM105.5 65.2h1.0v32.0h-1.0zM110.7 80.7h2.1v16.5h-2.1zM135.5 33.2h6.9v16.0h-6.9zM143.4 33.2h1.0v16.0h-1.0zM145.4 33.2h1.0v16.0h-1.0zM148.4 33.2h3.0v16.0h-3.0zM153.3 33.2h2.0v16.0h-2.0zM157.3 33.2h1.0v16.0h-1.0zM162.3 33.2h3.0v16.0h-3.0zM171.2 33.2h2.0v16.0h-2.0zM174.2 33.2h5.9v16.0h-5.9zM181.1 33.2h2.0v16.0h-2.0zM184.1 33.2h6.9v16.0h-6.9zM135.5 49.2h10.9v16.0h-10.9zM148.4 49.2h3.0v16.0h-3.0zM153.3 49.2h2.0v16.0h-2.0zM157.3 49.2h1.0v16.0h-1.0zM162.3 49.2h3.0v16.0h-3.0zM167.2 49.2h1.0v16.0h-1.0zM171.2 49.2h2.0v16.0h-2.0zM174.2 49.2h5.9v16.0h-5.9zM181.1 49.2h2.0v16.0h-2.0zM184.1 49.2h6.9v16.0h-6.9zM154.0 65.2h2.0v15.5h-2.0zM167.0 65.2h1.0v15.5h-1.0zM128.0 80.7h1.0v16.5h-1.0zM166.2 80.7h2.0v16.5h-2.0zM180.2 80.7h1.0v16.5h-1.0zM186.2 80.7h1.0v16.5h-1.0zM258.6 97.2h2.0v15.8h-2.0zM275.9 97.2h1.0v15.8h-1.0zM314.0 97.2h1.0v15.8h-1.0zM280.0 113.0h3.0v15.8h-3.0zM285.0 113.0h1.0v15.8h-1.0zM289.0 113.0h2.0v15.8h-2.0zM292.0 113.0h1.0v15.8h-1.0zM281.0 128.7h6.0v15.8h-6.0zM288.0 128.7h4.0v15.8h-4.0zM293.0 128.7h3.0v15.8h-3.0zM299.0 128.7h5.0v15.8h-5.0zM305.0 128.7h1.0v15.8h-1.0zM308.0 128.7h1.0v15.8h-1.0zM310.0 128.7h1.0v15.8h-1.0zM315.0 128.7h1.0v15.8h-1.0zM317.0 128.7h1.0v15.8h-1.0zM319.0 128.7h4.0v15.8h-4.0zM324.0 128.7h3.0v15.8h-3.0zM329.0 128.7h1.0v15.8h-1.0zM331.0 128.7h2.0v15.8h-2.0zM335.0 128.7h5.0v15.8h-5.0zM342.0 128.7h1.0v15.8h-1.0zM346.0 128.7h1.0v15.8h-1.0zM350.0 128.7h1.0v15.8h-1.0zM352.0 128.7h2.0v15.8h-2.0zM355.0 97.2h1.0v15.8h-1.0zM360.0 97.2h2.0v15.8h-2.0zM381.0 65.2h2.0v32.0h-2.0zM384.0 65.2h1.0v32.0h-1.0zM388.0 65.2h3.0v32.0h-3.0zM392.0 65.2h1.0v32.0h-1.0zM396.0 65.2h2.0v32.0h-2.0zM401.0 65.2h2.9v32.0h-2.9zM404.8 65.2h1.9v32.0h-1.9zM407.7 65.2h2.9v32.0h-2.9zM411.5 65.2h1.0v32.0h-1.0zM414.6 80.7h1.0v16.5h-1.0zM419.8 80.7h1.0v16.5h-1.0zM421.9 80.7h1.0v16.5h-1.0zM441.5 33.2h3.0v16.0h-3.0zM450.4 33.2h5.0v16.0h-5.0zM458.4 33.2h2.0v16.0h-2.0zM461.3 33.2h1.0v16.0h-1.0zM467.3 33.2h4.0v16.0h-4.0zM472.2 33.2h1.0v16.0h-1.0zM474.2 33.2h4.0v16.0h-4.0zM481.2 33.2h6.9v16.0h-6.9zM489.1 33.2h1.0v16.0h-1.0zM492.1 33.2h2.0v16.0h-2.0zM497.0 33.2h2.0v16.0h-2.0zM441.5 49.2h3.0v16.0h-3.0zM445.5 49.2h2.0v16.0h-2.0zM450.4 49.2h5.0v16.0h-5.0zM458.4 49.2h2.0v16.0h-2.0zM461.3 49.2h4.0v16.0h-4.0zM467.3 49.2h4.0v16.0h-4.0zM472.2 49.2h1.0v16.0h-1.0zM474.2 49.2h13.9v16.0h-13.9zM489.1 49.2h1.0v16.0h-1.0zM492.1 49.2h2.0v16.0h-2.0zM495.0 49.2h4.0v16.0h-4.0zM465.0 65.2h1.0v15.5h-1.0zM469.0 65.2h1.0v15.5h-1.0zM471.0 65.2h1.0v15.5h-1.0zM481.0 65.2h1.0v15.5h-1.0zM474.2 80.7h2.0v16.5h-2.0zM479.2 80.7h1.0v16.5h-1.0zM487.2 80.7h1.0v16.5h-1.0z"/>
<path fill="#ff0033" fill-opacity="1" d="M45.5 97.2h2.5v15.8h-2.5zM45.5 113.0h2.5v15.8h-2.5zM48.0 97.2h6.0v15.8h-6.0zM55.0 97.2h20.0v15.8h-20.0zM106.5 80.7h4.2v16.5h-4.2zM112.8 80.7h6.2v16.5h-6.2zM148.0 65.2h6.0v15.5h-6.0zM156.0 65.2h11.0v15.5h-11.0zM168.0 65.2h12.0v15.5h-12.0zM119.0 80.7h9.0v16.5h-9.0zM129.0 80.7h37.1v16.5h-37.1zM168.2 80.7h12.0v16.5h-12.0zM181.2 80.7h5.0v16.5h-5.0zM187.2 80.7h22.1v16.5h-22.1zM209.3 80.7h3.9v16.5h-3.9zM214.2 80.7h6.8v16.5h-6.8zM221.0 80.7h2.0v16.5h-2.0zM224.0 80.7h6.9v16.5h-6.9zM231.8 80.7h1.0v16.5h-1.0zM235.8 80.7h4.9v16.5h-4.9zM242.7 80.7h7.9v16.5h-7.9zM251.5 80.7h1.0v16.5h-1.0zM251.5 97.2h7.1v15.8h-7.1zM260.7 97.2h15.3v15.8h-15.3zM276.9 97.2h3.1v15.8h-3.1zM280.0 97.2h34.0v15.8h-34.0zM315.0 97.2h39.0v15.8h-39.0zM293.0 113.0h3.0v15.8h-3.0zM297.0 113.0h19.0v15.8h-19.0zM317.0 113.0h7.0v15.8h-7.0zM326.0 113.0h5.0v15.8h-5.0zM332.0 113.0h4.0v15.8h-4.0zM337.0 113.0h11.0v15.8h-11.0zM349.0 113.0h5.0v15.8h-5.0zM354.0 97.2h1.0v15.8h-1.0zM356.0 97.2h4.0v15.8h-4.0zM362.0 97.2h19.0v15.8h-19.0zM412.5 80.7h2.1v16.5h-2.1zM415.6 80.7h4.2v16.5h-4.2zM420.8 80.7h1.0v16.5h-1.0zM422.9 80.7h2.1v16.5h-2.1zM454.0 65.2h11.0v15.5h-11.0zM466.0 65.2h3.0v15.5h-3.0zM470.0 65.2h1.0v15.5h-1.0zM472.0 65.2h9.0v15.5h-9.0zM482.0 65.2h4.0v15.5h-4.0zM425.0 80.7h49.2v16.5h-49.2zM476.2 80.7h3.0v16.5h-3.0zM480.2 80.7h7.0v16.5h-7.0zM488.2 80.7h27.1v16.5h-27.1zM515.3 80.7h2.9v16.5h-2.9zM519.2 80.7h7.8v16.5h-7.8zM527.0 80.7h10.0v16.5h-10.0zM538.0 80.7h3.0v16.5h-3.0zM542.0 80.7h1.0v16.5h-1.0z"/>
<rect x="45.5" y="113.2" width="30.5" height="16.0" fill="#fff" fill-opacity="0.85"/>
<rect x="351.0" y="113.2" width="31.0" height="16.0" fill="#fff" fill-opacity="0.85"/>
<rect x="180.0" y="65.2" width="29.0" height="16.0" fill="#fff" fill-opacity="0.50"/>
<rect x="209.0" y="65.2" width="43.0" height="16.0" fill="#fff" fill-opacity="0.55"/>
<rect x="515.0" y="65.2" width="28.0" height="16.0" fill="#fff" fill-opacity="0.50"/>
<rect x="76.0" y="113.2" width="74.0" height="16.0" fill="#fff" fill-opacity="0.80"/>
<rect x="382.0" y="113.2" width="74.0" height="16.0" fill="#fff" fill-opacity="0.80"/>
<path fill="#000080" fill-opacity="0.1" d="M328.1 97.2h1.0v31.5h-1.0zM333.2 97.2h1.0v31.5h-1.0zM335.2 97.2h1.0v31.5h-1.0zM339.3 97.2h1.0v31.5h-1.0zM346.4 97.2h1.0v31.5h-1.0zM351.5 97.2h1.0v31.5h-1.0zM237.5 33.2h57.5v1h-57.5z"/>
<path fill="#000080" fill-opacity="0.2" d="M204.7 65.2h1.9v32.0h-1.9zM177.0 97.2h2.0v31.5h-2.0zM188.8 97.2h1.0v31.5h-1.0zM190.8 97.2h3.0v31.5h-3.0zM197.7 97.2h2.0v31.5h-2.0zM201.6 97.2h2.0v31.5h-2.0zM206.5 97.2h1.0v31.5h-1.0zM233.4 33.2h1.0v16.0h-1.0zM502.0 65.2h1.0v32.0h-1.0zM485.0 97.2h4.9v31.5h-4.9zM491.9 97.2h1.0v31.5h-1.0zM510.6 97.2h1.0v31.5h-1.0zM47.5 127.7h28.5v1h-28.5zM150.0 127.7h27.0v1h-27.0zM177.0 65.2h18.0v1h-18.0zM197.0 65.2h11.5v1h-11.5zM208.5 65.2h12.5v1h-12.5zM221.0 65.2h29.0v1h-29.0zM282.0 65.2h29.3v1h-29.3zM353.5 127.7h28.5v1h-28.5zM456.0 127.7h27.0v1h-27.0zM483.0 65.2h18.0v1h-18.0zM503.0 65.2h11.5v1h-11.5zM514.5 65.2h12.5v1h-12.5zM527.0 65.2h16.0v1h-16.0z"/>
<path fill="#000080" fill-opacity="0.3" d="M83.0 144.5h1.0v15.3h-1.0zM97.0 144.5h1.0v15.3h-1.0zM105.0 144.5h1.0v15.3h-1.0zM126.0 144.5h2.0v15.3h-2.0zM129.0 144.5h1.0v15.3h-1.0zM138.0 144.5h2.0v15.3h-2.0zM180.0 97.2h3.9v31.5h-3.9zM185.9 97.2h1.0v31.5h-1.0zM194.7 97.2h2.0v31.5h-2.0zM199.6 97.2h2.0v31.5h-2.0zM204.6 97.2h2.0v31.5h-2.0zM302.3 33.2h1.0v16.0h-1.0zM319.1 65.2h1.0v15.5h-1.0zM345.6 65.2h1.0v15.5h-1.0zM437.0 144.5h1.0v15.3h-1.0zM439.0 144.5h1.0v15.3h-1.0zM448.0 144.5h1.0v15.3h-1.0zM483.0 97.2h2.0v31.5h-2.0zM489.9 97.2h2.0v31.5h-2.0zM493.8 97.2h2.0v31.5h-2.0zM496.8 97.2h1.0v31.5h-1.0zM498.8 97.2h4.9v31.5h-4.9zM504.7 97.2h5.9v31.5h-5.9zM513.5 97.2h1.0v31.5h-1.0zM528.0 33.2h2.0v16.0h-2.0zM45.5 65.2h3.0v1h-3.0zM76.0 158.7h74.0v1h-74.0zM298.3 33.2h13.0v1h-13.0zM311.3 65.2h11.7v1h-11.7zM323.0 65.2h31.5v1h-31.5zM382.0 158.7h74.0v1h-74.0zM527.0 33.2h16.0v1h-16.0z"/>
<path fill="#000080" fill-opacity="0.4" d="M59.7 113.0h2.0v15.8h-2.0zM138.0 128.7h1.0v15.8h-1.0zM178.0 65.2h3.0v32.0h-3.0zM183.0 65.2h1.0v32.0h-1.0zM187.0 65.2h1.0v32.0h-1.0zM190.0 65.2h1.0v32.0h-1.0zM195.0 65.2h2.0v32.0h-2.0zM206.6 65.2h1.0v32.0h-1.0zM223.1 33.2h1.0v16.0h-1.0zM225.1 33.2h2.1v16.0h-2.1zM228.2 33.2h1.0v16.0h-1.0zM231.3 33.2h1.0v16.0h-1.0zM235.4 33.2h2.1v16.0h-2.1zM223.1 49.2h1.0v16.0h-1.0zM225.1 49.2h2.1v16.0h-2.1zM228.2 49.2h1.0v16.0h-1.0zM231.3 49.2h1.0v16.0h-1.0zM233.4 49.2h1.0v16.0h-1.0zM236.5 49.2h1.0v16.0h-1.0zM299.3 33.2h2.0v16.0h-2.0zM306.3 33.2h2.0v16.0h-2.0zM309.3 33.2h1.0v16.0h-1.0zM324.0 97.2h1.0v31.5h-1.0zM329.1 97.2h3.0v31.5h-3.0zM336.2 97.2h2.0v31.5h-2.0zM342.3 97.2h1.0v31.5h-1.0zM345.4 97.2h1.0v31.5h-1.0zM347.4 97.2h2.0v31.5h-2.0zM487.0 65.2h1.0v32.0h-1.0zM495.0 65.2h1.0v32.0h-1.0zM498.0 65.2h1.0v32.0h-1.0zM501.0 65.2h1.0v32.0h-1.0zM504.9 65.2h1.0v32.0h-1.0zM510.7 65.2h1.9v32.0h-1.9zM528.0 49.2h2.0v16.0h-2.0zM528.0 65.2h2.0v15.5h-2.0zM45.5 127.7h2.0v1h-2.0zM221.0 33.2h16.5v1h-16.5zM323.0 127.7h30.5v1h-30.5zM58.0 66.2h1.5v31.0h-1.5zM364.0 66.2h1.5v31.0h-1.5zM473.5 65.2h1.5v32.0h-1.5z"/>
<path fill="#000080" fill-opacity="0.5" d="M81.0 144.5h2.0v15.3h-2.0zM85.0 144.5h3.0v15.3h-3.0zM92.0 144.5h2.0v15.3h-2.0zM101.0 144.5h1.0v15.3h-1.0zM103.0 144.5h1.0v15.3h-1.0zM106.0 144.5h1.0v15.3h-1.0zM108.0 144.5h1.0v15.3h-1.0zM111.0 144.5h1.0v15.3h-1.0zM115.0 144.5h1.0v15.3h-1.0zM117.0 144.5h1.0v15.3h-1.0zM119.0 144.5h2.0v15.3h-2.0zM125.0 144.5h1.0v15.3h-1.0zM130.0 144.5h1.0v15.3h-1.0zM136.0 144.5h1.0v15.3h-1.0zM142.0 144.5h1.0v15.3h-1.0zM179.0 97.2h1.0v31.5h-1.0zM183.9 97.2h2.0v31.5h-2.0zM186.8 97.2h2.0v31.5h-2.0zM189.8 97.2h1.0v31.5h-1.0zM193.7 97.2h1.0v31.5h-1.0zM196.7 97.2h1.0v31.5h-1.0zM203.6 97.2h1.0v31.5h-1.0zM207.5 97.2h1.0v31.5h-1.0zM299.3 49.2h2.0v16.0h-2.0zM302.3 49.2h1.0v16.0h-1.0zM306.3 49.2h2.0v16.0h-2.0zM309.3 49.2h1.0v16.0h-1.0zM221.0 65.2h1.0v15.5h-1.0zM228.0 65.2h1.0v15.5h-1.0zM234.0 65.2h2.0v15.5h-2.0zM240.0 65.2h1.0v15.5h-1.0zM244.0 65.2h1.0v15.5h-1.0zM248.0 65.2h1.0v15.5h-1.0zM288.1 65.2h1.0v15.5h-1.0zM303.2 65.2h2.0v15.5h-2.0zM306.2 65.2h1.0v15.5h-1.0zM308.3 65.2h2.0v15.5h-2.0zM313.2 65.2h1.0v15.5h-1.0zM321.1 65.2h1.9v15.5h-1.9zM324.0 65.2h1.0v15.5h-1.0zM328.9 65.2h1.0v15.5h-1.0zM332.8 65.2h1.0v15.5h-1.0zM334.8 65.2h3.0v15.5h-3.0zM338.8 65.2h1.0v15.5h-1.0zM350.6 65.2h1.0v15.5h-1.0zM352.5 65.2h1.0v15.5h-1.0zM384.0 144.5h1.0v15.3h-1.0zM388.0 144.5h1.0v15.3h-1.0zM390.0 144.5h2.0v15.3h-2.0zM397.0 144.5h3.0v15.3h-3.0zM403.0 144.5h1.0v15.3h-1.0zM407.0 144.5h3.0v15.3h-3.0zM412.0 144.5h1.0v15.3h-1.0zM416.0 144.5h1.0v15.3h-1.0zM418.0 144.5h1.0v15.3h-1.0zM424.0 144.5h5.0v15.3h-5.0zM430.0 144.5h1.0v15.3h-1.0zM436.0 144.5h1.0v15.3h-1.0zM443.0 144.5h4.0v15.3h-4.0zM449.0 144.5h1.0v15.3h-1.0zM454.0 144.5h2.0v15.3h-2.0zM492.8 97.2h1.0v31.5h-1.0zM495.8 97.2h1.0v31.5h-1.0zM497.8 97.2h1.0v31.5h-1.0zM503.7 97.2h1.0v31.5h-1.0zM511.5 97.2h2.0v31.5h-2.0zM514.5 65.2h1.0v15.5h-1.0zM518.7 65.2h1.0v15.5h-1.0zM520.8 65.2h1.0v15.5h-1.0zM526.0 65.2h1.0v15.5h-1.0zM527.0 33.2h1.0v16.0h-1.0zM532.0 33.2h1.0v16.0h-1.0zM536.0 33.2h1.0v16.0h-1.0zM540.0 33.2h1.0v16.0h-1.0zM542.0 33.2h1.0v16.0h-1.0zM527.0 49.2h1.0v16.0h-1.0zM532.0 49.2h1.0v16.0h-1.0zM540.0 49.2h1.0v16.0h-1.0zM527.0 65.2h1.0v15.5h-1.0zM532.0 65.2h1.0v15.5h-1.0zM540.0 65.2h1.0v15.5h-1.0zM177.0 127.7h31.5v1h-31.5zM483.0 127.7h31.5v1h-31.5zM166.2 89.2h1.2v8.0h-1.2z"/>
<path fill="#000080" fill-opacity="0.6" d="M47.5 65.2h1.0v15.5h-1.0zM46.5 97.2h1.0v31.5h-1.0zM49.5 113.0h2.0v15.8h-2.0zM67.9 113.0h1.0v15.8h-1.0zM88.0 113.0h1.0v15.8h-1.0zM86.0 128.7h2.0v15.8h-2.0zM97.0 128.7h1.0v15.8h-1.0zM119.0 128.7h2.0v15.8h-2.0zM139.0 128.7h1.0v15.8h-1.0zM142.0 128.7h1.0v15.8h-1.0zM151.0 113.0h1.0v15.8h-1.0zM157.0 113.0h3.0v15.8h-3.0zM221.0 33.2h2.1v16.0h-2.1zM224.1 33.2h1.0v16.0h-1.0zM227.2 33.2h1.0v16.0h-1.0zM229.2 33.2h2.1v16.0h-2.1zM232.3 33.2h1.0v16.0h-1.0zM234.4 33.2h1.0v16.0h-1.0zM221.0 49.2h2.1v16.0h-2.1zM224.1 49.2h1.0v16.0h-1.0zM227.2 49.2h1.0v16.0h-1.0zM229.2 49.2h2.1v16.0h-2.1zM232.3 49.2h1.0v16.0h-1.0zM234.4 49.2h2.1v16.0h-2.1zM257.3 33.2h1.0v16.0h-1.0zM276.2 33.2h1.0v16.0h-1.0zM279.1 33.2h2.0v16.0h-2.0zM285.1 33.2h2.0v16.0h-2.0zM289.1 33.2h1.0v16.0h-1.0zM293.0 33.2h1.0v16.0h-1.0zM257.3 49.2h1.0v16.0h-1.0zM289.1 49.2h1.0v16.0h-1.0zM298.3 33.2h1.0v16.0h-1.0zM301.3 33.2h1.0v16.0h-1.0zM303.3 33.2h3.0v16.0h-3.0zM308.3 33.2h1.0v16.0h-1.0zM310.3 33.2h1.0v16.0h-1.0zM298.3 49.2h1.0v16.0h-1.0zM301.3 49.2h1.0v16.0h-1.0zM303.3 49.2h3.0v16.0h-3.0zM310.3 49.2h1.0v16.0h-1.0zM323.0 65.2h1.0v15.5h-1.0zM327.9 65.2h1.0v15.5h-1.0zM329.9 65.2h2.0v15.5h-2.0zM337.8 65.2h1.0v15.5h-1.0zM342.7 65.2h1.0v15.5h-1.0zM344.7 65.2h1.0v15.5h-1.0zM346.6 65.2h3.9v15.5h-3.9zM351.5 65.2h1.0v15.5h-1.0zM353.5 65.2h1.0v15.5h-1.0zM323.0 97.2h1.0v31.5h-1.0zM325.0 97.2h1.0v31.5h-1.0zM327.1 97.2h1.0v31.5h-1.0zM338.2 97.2h1.0v31.5h-1.0zM340.3 97.2h2.0v31.5h-2.0zM343.3 97.2h2.0v31.5h-2.0zM349.4 97.2h2.0v31.5h-2.0zM352.5 97.2h1.0v31.5h-1.0zM354.5 113.0h1.0v15.8h-1.0zM359.6 113.0h1.0v15.8h-1.0zM408.0 128.7h1.0v15.8h-1.0zM412.0 128.7h1.0v15.8h-1.0zM430.0 128.7h1.0v15.8h-1.0zM437.0 128.7h1.0v15.8h-1.0zM439.0 128.7h1.0v15.8h-1.0zM448.0 128.7h1.0v15.8h-1.0zM454.0 128.7h2.0v15.8h-2.0zM458.0 113.0h1.0v15.8h-1.0zM470.0 113.0h1.0v15.8h-1.0zM530.0 33.2h2.0v16.0h-2.0zM533.0 33.2h2.0v16.0h-2.0zM537.0 33.2h3.0v16.0h-3.0zM541.0 33.2h1.0v16.0h-1.0zM64.4 97.2h2.0v61.1h-2.0zM158.2 97.2h3.6v62.1h-3.6zM164.7 97.2h1.2v56.1h-1.2zM370.4 97.2h2.0v61.1h-2.0zM467.3 97.2h1.4v61.1h-1.4z"/>
<path fill="#000080" fill-opacity="0.7" d="M48.5 113.0h1.0v15.8h-1.0zM56.7 113.0h3.1v15.8h-3.1zM61.8 113.0h5.1v15.8h-5.1zM68.9 113.0h2.0v15.8h-2.0zM72.9 113.0h3.1v15.8h-3.1zM76.0 144.5h1.0v15.3h-1.0zM78.0 144.5h3.0v15.3h-3.0zM88.0 144.5h1.0v15.3h-1.0zM91.0 144.5h1.0v15.3h-1.0zM94.0 144.5h3.0v15.3h-3.0zM100.0 144.5h1.0v15.3h-1.0zM102.0 144.5h1.0v15.3h-1.0zM104.0 144.5h1.0v15.3h-1.0zM109.0 144.5h1.0v15.3h-1.0zM114.0 144.5h1.0v15.3h-1.0zM121.0 144.5h3.0v15.3h-3.0zM128.0 144.5h1.0v15.3h-1.0zM131.0 144.5h3.0v15.3h-3.0zM145.0 144.5h5.0v15.3h-5.0zM150.0 113.0h1.0v15.8h-1.0zM155.0 113.0h1.0v15.8h-1.0zM160.0 113.0h2.0v15.8h-2.0zM165.0 113.0h1.0v15.8h-1.0zM167.0 113.0h2.0v15.8h-2.0zM170.0 113.0h1.0v15.8h-1.0zM175.0 113.0h1.0v15.8h-1.0zM177.0 65.2h1.0v32.0h-1.0zM181.0 65.2h1.0v32.0h-1.0zM184.0 65.2h2.0v32.0h-2.0zM191.0 65.2h2.0v32.0h-2.0zM197.0 65.2h2.9v32.0h-2.9zM202.8 65.2h1.9v32.0h-1.9zM207.5 65.2h1.0v32.0h-1.0zM209.5 65.2h2.1v15.5h-2.1zM214.8 65.2h1.0v15.5h-1.0zM217.9 65.2h3.1v15.5h-3.1zM237.5 33.2h2.0v16.0h-2.0zM241.5 33.2h1.0v16.0h-1.0zM247.4 33.2h2.0v16.0h-2.0zM250.4 33.2h1.0v16.0h-1.0zM253.4 33.2h2.0v16.0h-2.0zM258.3 33.2h4.0v16.0h-4.0zM267.2 33.2h1.0v16.0h-1.0zM270.2 33.2h4.0v16.0h-4.0zM275.2 33.2h1.0v16.0h-1.0zM278.1 33.2h1.0v16.0h-1.0zM282.1 33.2h1.0v16.0h-1.0zM284.1 33.2h1.0v16.0h-1.0zM287.1 33.2h1.0v16.0h-1.0zM290.0 33.2h3.0v16.0h-3.0zM294.0 33.2h1.0v16.0h-1.0zM227.0 65.2h1.0v15.5h-1.0zM229.0 65.2h3.0v15.5h-3.0zM233.0 65.2h1.0v15.5h-1.0zM237.0 65.2h2.0v15.5h-2.0zM241.0 65.2h2.0v15.5h-2.0zM246.0 65.2h2.0v15.5h-2.0zM282.0 65.2h1.0v15.5h-1.0zM284.0 65.2h1.0v15.5h-1.0zM286.0 65.2h1.0v15.5h-1.0zM290.1 65.2h2.0v15.5h-2.0zM297.2 65.2h1.0v15.5h-1.0zM299.2 65.2h4.0v15.5h-4.0zM305.2 65.2h1.0v15.5h-1.0zM310.3 65.2h1.0v15.5h-1.0zM311.3 65.2h1.9v15.5h-1.9zM314.2 65.2h2.9v15.5h-2.9zM318.1 65.2h1.0v15.5h-1.0zM320.1 65.2h1.0v15.5h-1.0zM356.6 113.0h1.0v15.8h-1.0zM358.6 113.0h1.0v15.8h-1.0zM361.6 113.0h3.1v15.8h-3.1zM366.7 113.0h1.0v15.8h-1.0zM368.8 113.0h4.1v15.8h-4.1zM373.9 113.0h3.1v15.8h-3.1zM377.9 113.0h1.0v15.8h-1.0zM381.0 113.0h1.0v15.8h-1.0zM382.0 144.5h2.0v15.3h-2.0zM385.0 144.5h1.0v15.3h-1.0zM393.0 144.5h4.0v15.3h-4.0zM401.0 144.5h1.0v15.3h-1.0zM410.0 144.5h1.0v15.3h-1.0zM414.0 144.5h2.0v15.3h-2.0zM417.0 144.5h1.0v15.3h-1.0zM421.0 144.5h3.0v15.3h-3.0zM429.0 144.5h1.0v15.3h-1.0zM431.0 144.5h1.0v15.3h-1.0zM433.0 144.5h3.0v15.3h-3.0zM438.0 144.5h1.0v15.3h-1.0zM440.0 144.5h3.0v15.3h-3.0zM452.0 144.5h1.0v15.3h-1.0zM457.0 113.0h1.0v15.8h-1.0zM459.0 113.0h2.0v15.8h-2.0zM462.0 113.0h1.0v15.8h-1.0zM471.0 113.0h1.0v15.8h-1.0zM475.0 113.0h2.0v15.8h-2.0zM478.0 113.0h2.0v15.8h-2.0zM481.0 113.0h1.0v15.8h-1.0zM483.0 65.2h3.0v32.0h-3.0zM488.0 65.2h7.0v32.0h-7.0zM496.0 65.2h2.0v32.0h-2.0zM500.0 65.2h1.0v32.0h-1.0zM503.0 65.2h1.9v32.0h-1.9zM505.9 65.2h1.0v32.0h-1.0zM509.7 65.2h1.0v32.0h-1.0zM512.6 65.2h1.9v32.0h-1.9zM521.8 65.2h1.0v15.5h-1.0zM530.0 49.2h2.0v16.0h-2.0zM533.0 49.2h1.0v16.0h-1.0zM536.0 49.2h4.0v16.0h-4.0zM541.0 49.2h1.0v16.0h-1.0zM530.0 65.2h2.0v15.5h-2.0zM533.0 65.2h1.0v15.5h-1.0zM536.0 65.2h4.0v15.5h-4.0zM541.0 65.2h2.0v15.5h-2.0z"/>
<path fill="#000080" fill-opacity="0.8" d="M45.5 65.2h2.0v15.5h-2.0zM49.5 97.2h2.0v15.8h-2.0zM64.8 97.2h1.0v15.8h-1.0zM83.0 97.2h1.0v15.8h-1.0zM96.0 97.2h2.0v15.8h-2.0zM119.0 97.2h2.0v15.8h-2.0zM139.0 97.2h1.0v15.8h-1.0zM142.0 97.2h1.0v15.8h-1.0zM76.0 113.0h2.0v15.8h-2.0zM82.0 113.0h2.0v15.8h-2.0zM85.0 113.0h3.0v15.8h-3.0zM93.0 113.0h2.0v15.8h-2.0zM120.0 113.0h1.0v15.8h-1.0zM76.0 128.7h1.0v15.8h-1.0zM78.0 128.7h1.0v15.8h-1.0zM81.0 128.7h3.0v15.8h-3.0zM85.0 128.7h1.0v15.8h-1.0zM88.0 128.7h1.0v15.8h-1.0zM92.0 128.7h1.0v15.8h-1.0zM94.0 128.7h3.0v15.8h-3.0zM101.0 128.7h1.0v15.8h-1.0zM103.0 128.7h1.0v15.8h-1.0zM106.0 128.7h1.0v15.8h-1.0zM117.0 128.7h1.0v15.8h-1.0zM123.0 128.7h1.0v15.8h-1.0zM125.0 128.7h8.0v15.8h-8.0zM146.0 128.7h4.0v15.8h-4.0zM77.0 144.5h1.0v15.3h-1.0zM84.0 144.5h1.0v15.3h-1.0zM89.0 144.5h2.0v15.3h-2.0zM98.0 144.5h2.0v15.3h-2.0zM107.0 144.5h1.0v15.3h-1.0zM110.0 144.5h1.0v15.3h-1.0zM112.0 144.5h2.0v15.3h-2.0zM116.0 144.5h1.0v15.3h-1.0zM118.0 144.5h1.0v15.3h-1.0zM124.0 144.5h1.0v15.3h-1.0zM134.0 144.5h2.0v15.3h-2.0zM137.0 144.5h1.0v15.3h-1.0zM140.0 144.5h2.0v15.3h-2.0zM143.0 144.5h2.0v15.3h-2.0zM150.0 97.2h1.0v15.8h-1.0zM208.5 65.2h1.0v15.5h-1.0zM211.6 65.2h3.1v15.5h-3.1zM215.8 65.2h2.1v15.5h-2.1zM237.5 49.2h1.0v16.0h-1.0zM241.5 49.2h1.0v16.0h-1.0zM247.4 49.2h2.0v16.0h-2.0zM250.4 49.2h1.0v16.0h-1.0zM253.4 49.2h2.0v16.0h-2.0zM258.3 49.2h1.0v16.0h-1.0zM260.3 49.2h2.0v16.0h-2.0zM267.2 49.2h1.0v16.0h-1.0zM271.2 49.2h1.0v16.0h-1.0zM273.2 49.2h1.0v16.0h-1.0zM276.2 49.2h1.0v16.0h-1.0zM278.1 49.2h3.0v16.0h-3.0zM282.1 49.2h1.0v16.0h-1.0zM285.1 49.2h3.0v16.0h-3.0zM291.0 49.2h4.0v16.0h-4.0zM308.3 49.2h1.0v16.0h-1.0zM222.0 65.2h5.0v15.5h-5.0zM232.0 65.2h1.0v15.5h-1.0zM236.0 65.2h1.0v15.5h-1.0zM239.0 65.2h1.0v15.5h-1.0zM243.0 65.2h1.0v15.5h-1.0zM245.0 65.2h1.0v15.5h-1.0zM249.0 65.2h1.0v15.5h-1.0zM270.0 65.2h1.0v15.5h-1.0zM283.0 65.2h1.0v15.5h-1.0zM285.0 65.2h1.0v15.5h-1.0zM287.1 65.2h1.0v15.5h-1.0zM289.1 65.2h1.0v15.5h-1.0zM292.1 65.2h5.1v15.5h-5.1zM298.2 65.2h1.0v15.5h-1.0zM307.3 65.2h1.0v15.5h-1.0zM222.0 80.7h1.0v16.5h-1.0zM248.1 80.7h1.0v16.5h-1.0zM273.2 80.7h1.0v16.5h-1.0zM287.2 80.7h1.0v16.5h-1.0zM289.2 80.7h1.0v16.5h-1.0zM308.3 80.7h2.0v16.5h-2.0zM317.1 65.2h1.0v15.5h-1.0zM313.2 80.7h1.9v16.5h-1.9zM325.0 65.2h3.0v15.5h-3.0zM331.9 65.2h1.0v15.5h-1.0zM333.8 65.2h1.0v15.5h-1.0zM339.7 65.2h3.0v15.5h-3.0zM343.7 65.2h1.0v15.5h-1.0zM323.0 80.7h2.0v16.5h-2.0zM327.9 80.7h2.0v16.5h-2.0zM337.8 80.7h1.0v16.5h-1.0zM342.7 80.7h1.0v16.5h-1.0zM345.6 80.7h1.0v16.5h-1.0zM352.5 80.7h2.0v16.5h-2.0zM361.6 97.2h1.0v15.8h-1.0zM368.8 97.2h4.1v15.8h-4.1zM388.0 97.2h1.0v15.8h-1.0zM448.0 97.2h1.0v15.8h-1.0zM390.0 113.0h1.0v15.8h-1.0zM392.0 113.0h3.0v15.8h-3.0zM427.0 113.0h1.0v15.8h-1.0zM382.0 128.7h2.0v15.8h-2.0zM385.0 128.7h1.0v15.8h-1.0zM388.0 128.7h1.0v15.8h-1.0zM390.0 128.7h2.0v15.8h-2.0zM394.0 128.7h3.0v15.8h-3.0zM398.0 128.7h2.0v15.8h-2.0zM401.0 128.7h1.0v15.8h-1.0zM407.0 128.7h1.0v15.8h-1.0zM409.0 128.7h1.0v15.8h-1.0zM415.0 128.7h1.0v15.8h-1.0zM417.0 128.7h2.0v15.8h-2.0zM421.0 128.7h7.0v15.8h-7.0zM429.0 128.7h1.0v15.8h-1.0zM440.0 128.7h1.0v15.8h-1.0zM442.0 128.7h5.0v15.8h-5.0zM449.0 128.7h1.0v15.8h-1.0zM452.0 128.7h1.0v15.8h-1.0zM386.0 144.5h2.0v15.3h-2.0zM389.0 144.5h1.0v15.3h-1.0zM392.0 144.5h1.0v15.3h-1.0zM400.0 144.5h1.0v15.3h-1.0zM402.0 144.5h1.0v15.3h-1.0zM404.0 144.5h3.0v15.3h-3.0zM411.0 144.5h1.0v15.3h-1.0zM413.0 144.5h1.0v15.3h-1.0zM419.0 144.5h2.0v15.3h-2.0zM432.0 144.5h1.0v15.3h-1.0zM447.0 144.5h1.0v15.3h-1.0zM450.0 144.5h2.0v15.3h-2.0zM453.0 144.5h1.0v15.3h-1.0zM515.5 65.2h3.1v15.5h-3.1zM519.7 65.2h1.0v15.5h-1.0zM522.8 65.2h3.1v15.5h-3.1zM518.7 80.7h1.0v16.5h-1.0zM535.0 33.2h1.0v16.0h-1.0zM534.0 65.2h2.0v15.5h-2.0zM533.0 80.7h1.0v16.5h-1.0zM147.6 97.2h2.2v63.0h-2.2zM453.6 97.2h2.2v63.0h-2.2z"/>
<path fill="#000080" fill-opacity="0.9" d="M45.5 97.2h1.0v31.5h-1.0zM47.5 113.0h1.0v15.8h-1.0zM51.6 113.0h5.1v15.8h-5.1zM66.8 113.0h1.0v15.8h-1.0zM70.9 113.0h2.0v15.8h-2.0zM78.0 113.0h4.0v15.8h-4.0zM84.0 113.0h1.0v15.8h-1.0zM77.0 128.7h1.0v15.8h-1.0zM79.0 128.7h2.0v15.8h-2.0zM84.0 128.7h1.0v15.8h-1.0zM89.0 128.7h3.0v15.8h-3.0zM93.0 128.7h1.0v15.8h-1.0zM98.0 128.7h3.0v15.8h-3.0zM102.0 128.7h1.0v15.8h-1.0zM104.0 128.7h2.0v15.8h-2.0zM107.0 128.7h10.0v15.8h-10.0zM118.0 128.7h1.0v15.8h-1.0zM121.0 128.7h2.0v15.8h-2.0zM124.0 128.7h1.0v15.8h-1.0zM133.0 128.7h5.0v15.8h-5.0zM140.0 128.7h2.0v15.8h-2.0zM143.0 128.7h3.0v15.8h-3.0zM152.0 113.0h3.0v15.8h-3.0zM156.0 113.0h1.0v15.8h-1.0zM162.0 113.0h3.0v15.8h-3.0zM166.0 113.0h1.0v15.8h-1.0zM169.0 113.0h1.0v15.8h-1.0zM171.0 113.0h4.0v15.8h-4.0zM176.0 113.0h1.0v15.8h-1.0zM182.0 65.2h1.0v32.0h-1.0zM186.0 65.2h1.0v32.0h-1.0zM188.0 65.2h2.0v32.0h-2.0zM193.0 65.2h2.0v32.0h-2.0zM199.9 65.2h2.9v32.0h-2.9zM239.5 33.2h2.0v16.0h-2.0zM242.5 33.2h5.0v16.0h-5.0zM249.4 33.2h1.0v16.0h-1.0zM251.4 33.2h2.0v16.0h-2.0zM255.3 33.2h2.0v16.0h-2.0zM262.3 33.2h5.0v16.0h-5.0zM268.2 33.2h2.0v16.0h-2.0zM274.2 33.2h1.0v16.0h-1.0zM277.2 33.2h1.0v16.0h-1.0zM281.1 33.2h1.0v16.0h-1.0zM283.1 33.2h1.0v16.0h-1.0zM288.1 33.2h1.0v16.0h-1.0zM238.5 49.2h3.0v16.0h-3.0zM242.5 49.2h5.0v16.0h-5.0zM249.4 49.2h1.0v16.0h-1.0zM251.4 49.2h2.0v16.0h-2.0zM255.3 49.2h2.0v16.0h-2.0zM259.3 49.2h1.0v16.0h-1.0zM262.3 49.2h5.0v16.0h-5.0zM268.2 49.2h3.0v16.0h-3.0zM272.2 49.2h1.0v16.0h-1.0zM274.2 49.2h2.0v16.0h-2.0zM277.2 49.2h1.0v16.0h-1.0zM281.1 49.2h1.0v16.0h-1.0zM283.1 49.2h2.0v16.0h-2.0zM288.1 49.2h1.0v16.0h-1.0zM290.0 49.2h1.0v16.0h-1.0zM326.1 97.2h1.0v31.5h-1.0zM332.1 97.2h1.0v31.5h-1.0zM334.2 97.2h1.0v31.5h-1.0zM353.5 113.0h1.0v15.8h-1.0zM355.5 113.0h1.0v15.8h-1.0zM357.6 113.0h1.0v15.8h-1.0zM360.6 113.0h1.0v15.8h-1.0zM364.7 113.0h2.0v15.8h-2.0zM367.8 113.0h1.0v15.8h-1.0zM372.8 113.0h1.0v15.8h-1.0zM376.9 113.0h1.0v15.8h-1.0zM378.9 113.0h2.0v15.8h-2.0zM382.0 113.0h8.0v15.8h-8.0zM391.0 113.0h1.0v15.8h-1.0zM384.0 128.7h1.0v15.8h-1.0zM386.0 128.7h2.0v15.8h-2.0zM389.0 128.7h1.0v15.8h-1.0zM392.0 128.7h2.0v15.8h-2.0zM397.0 128.7h1.0v15.8h-1.0zM400.0 128.7h1.0v15.8h-1.0zM402.0 128.7h5.0v15.8h-5.0zM410.0 128.7h2.0v15.8h-2.0zM413.0 128.7h2.0v15.8h-2.0zM416.0 128.7h1.0v15.8h-1.0zM419.0 128.7h2.0v15.8h-2.0zM428.0 128.7h1.0v15.8h-1.0zM431.0 128.7h6.0v15.8h-6.0zM438.0 128.7h1.0v15.8h-1.0zM441.0 128.7h1.0v15.8h-1.0zM447.0 128.7h1.0v15.8h-1.0zM450.0 128.7h2.0v15.8h-2.0zM453.0 128.7h1.0v15.8h-1.0zM456.0 113.0h1.0v15.8h-1.0zM461.0 113.0h1.0v15.8h-1.0zM463.0 113.0h7.0v15.8h-7.0zM472.0 113.0h3.0v15.8h-3.0zM477.0 113.0h1.0v15.8h-1.0zM480.0 113.0h1.0v15.8h-1.0zM482.0 113.0h1.0v15.8h-1.0zM486.0 65.2h1.0v32.0h-1.0zM499.0 65.2h1.0v32.0h-1.0zM506.8 65.2h2.9v32.0h-2.9zM534.0 49.2h2.0v16.0h-2.0zM542.0 49.2h1.0v16.0h-1.0z"/>
<path fill="#000080" fill-opacity="1" d="M45.5 80.7h3.0v16.5h-3.0zM47.5 97.2h2.0v15.8h-2.0zM51.6 97.2h13.2v15.8h-13.2zM65.8 97.2h10.2v15.8h-10.2zM76.0 97.2h7.0v15.8h-7.0zM84.0 97.2h12.0v15.8h-12.0zM98.0 97.2h21.0v15.8h-21.0zM121.0 97.2h18.0v15.8h-18.0zM140.0 97.2h2.0v15.8h-2.0zM143.0 97.2h7.0v15.8h-7.0zM89.0 113.0h4.0v15.8h-4.0zM95.0 113.0h25.0v15.8h-25.0zM121.0 113.0h29.0v15.8h-29.0zM151.0 97.2h26.0v15.8h-26.0zM208.5 80.7h12.5v16.5h-12.5zM250.0 65.2h20.0v15.5h-20.0zM271.0 65.2h11.0v15.5h-11.0zM221.0 80.7h1.0v16.5h-1.0zM223.0 80.7h25.1v16.5h-25.1zM249.1 80.7h24.1v16.5h-24.1zM274.2 80.7h13.0v16.5h-13.0zM288.2 80.7h1.0v16.5h-1.0zM290.2 80.7h18.1v16.5h-18.1zM310.3 80.7h1.0v16.5h-1.0zM311.3 80.7h1.9v16.5h-1.9zM315.2 80.7h7.8v16.5h-7.8zM325.0 80.7h3.0v16.5h-3.0zM329.9 80.7h7.9v16.5h-7.9zM338.8 80.7h3.9v16.5h-3.9zM343.7 80.7h2.0v16.5h-2.0zM346.6 80.7h5.9v16.5h-5.9zM353.5 97.2h8.1v15.8h-8.1zM362.7 97.2h6.1v15.8h-6.1zM372.8 97.2h9.2v15.8h-9.2zM382.0 97.2h6.0v15.8h-6.0zM389.0 97.2h59.0v15.8h-59.0zM449.0 97.2h7.0v15.8h-7.0zM395.0 113.0h32.0v15.8h-32.0zM428.0 113.0h28.0v15.8h-28.0zM456.0 97.2h27.0v15.8h-27.0zM514.5 80.7h4.2v16.5h-4.2zM519.7 80.7h7.3v16.5h-7.3zM527.0 80.7h6.0v16.5h-6.0zM534.0 80.7h9.0v16.5h-9.0z"/>
<rect x="150.0" y="113.2" width="28.0" height="16.0" fill="#fff" fill-opacity="0.80"/>
<rect x="456.0" y="113.2" width="28.0" height="16.0" fill="#fff" fill-opacity="0.80"/>
<rect x="252.0" y="113.2" width="28.0" height="16.0" fill="#fff" fill-opacity="0.70"/>
<rect x="78.0" y="65.2" width="29.0" height="16.0" fill="#fff" fill-opacity="0.70"/>
<rect x="384.0" y="65.2" width="29.0" height="16.0" fill="#fff" fill-opacity="0.50"/>
<rect x="311.0" y="65.2" width="44.0" height="16.0" fill="#fff" fill-opacity="0.70"/>
<rect x="178.0" y="113.2" width="74.0" height="16.0" fill="#fff" fill-opacity="0.80"/>
<rect x="484.0" y="113.2" width="59.0" height="16.0" fill="#fff" fill-opacity="0.80"/>
<rect x="136.0" y="113.2" width="14.0" height="16.0" fill="#fff" fill-opacity="0.85"/>
<rect x="413.0" y="65.2" width="43.0" height="16.0" fill="#fff" fill-opacity="0.45"/>
<path fill="#999900" fill-opacity="0.1" d="M119.0 97.2h1.0v31.5h-1.0zM133.2 97.2h1.0v31.5h-1.0zM279.0 97.2h1.0v31.5h-1.0zM282.9 97.2h1.0v31.5h-1.0zM284.9 97.2h1.0v31.5h-1.0zM288.8 97.2h1.0v31.5h-1.0zM290.8 97.2h1.0v31.5h-1.0zM292.8 97.2h1.0v31.5h-1.0zM296.7 97.2h1.0v31.5h-1.0zM299.7 97.2h3.0v31.5h-3.0zM303.6 97.2h1.0v31.5h-1.0zM45.5 33.2h45.5v1h-45.5zM149.5 127.7h28.5v1h-28.5zM252.0 127.7h27.0v1h-27.0zM455.5 127.7h28.5v1h-28.5z"/>
<path fill="#999900" fill-opacity="0.2" d="M189.0 144.5h1.0v15.3h-1.0zM196.0 144.5h1.0v15.3h-1.0zM200.0 144.5h1.0v15.3h-1.0zM203.0 144.5h1.0v15.3h-1.0zM216.0 144.5h1.0v15.3h-1.0zM218.0 144.5h1.0v15.3h-1.0zM221.0 144.5h2.0v15.3h-2.0zM235.0 144.5h2.0v15.3h-2.0zM239.0 144.5h2.0v15.3h-2.0zM245.0 144.5h1.0v15.3h-1.0zM250.0 144.5h1.0v15.3h-1.0zM292.0 65.2h1.0v32.0h-1.0zM304.8 65.2h1.0v32.0h-1.0zM494.0 144.5h2.0v15.3h-2.0zM497.0 144.5h1.0v15.3h-1.0zM511.0 144.5h1.0v15.3h-1.0zM520.0 144.5h1.0v15.3h-1.0zM532.0 144.5h1.0v15.3h-1.0zM541.0 144.5h2.0v15.3h-2.0zM45.5 65.2h0.5v1h-0.5zM78.0 65.2h29.3v1h-29.3zM279.0 65.2h18.0v1h-18.0zM299.0 65.2h11.5v1h-11.5zM310.5 65.2h12.5v1h-12.5zM339.5 33.2h57.5v1h-57.5zM323.0 65.2h29.0v1h-29.0zM384.0 65.2h29.3v1h-29.3z"/>
<path fill="#999900" fill-opacity="0.3" d="M98.3 33.2h1.0v16.0h-1.0zM119.0 65.2h1.0v15.5h-1.0zM196.0 128.7h1.0v15.8h-1.0zM200.0 128.7h1.0v15.8h-1.0zM280.0 97.2h3.0v31.5h-3.0zM283.9 97.2h1.0v31.5h-1.0zM285.9 97.2h3.0v31.5h-3.0zM289.8 97.2h1.0v31.5h-1.0zM291.8 97.2h1.0v31.5h-1.0zM293.8 97.2h3.0v31.5h-3.0zM304.6 97.2h3.0v31.5h-3.0zM319.9 65.2h2.1v15.5h-2.1zM405.3 33.2h1.0v16.0h-1.0zM405.3 49.2h1.0v16.0h-1.0zM497.0 128.7h1.0v15.8h-1.0zM511.0 128.7h1.0v15.8h-1.0zM520.0 128.7h1.0v15.8h-1.0zM532.0 128.7h1.0v15.8h-1.0zM541.0 128.7h1.0v15.8h-1.0zM94.3 33.2h13.0v1h-13.0zM107.3 65.2h11.7v1h-11.7zM119.0 65.2h31.5v1h-31.5zM400.3 33.2h13.0v1h-13.0zM413.3 65.2h11.7v1h-11.7zM425.0 65.2h31.5v1h-31.5z"/>
<path fill="#999900" fill-opacity="0.4" d="M96.2 65.2h1.0v15.5h-1.0zM123.1 97.2h2.0v31.5h-2.0zM126.1 97.2h1.0v31.5h-1.0zM129.2 97.2h1.0v31.5h-1.0zM135.3 97.2h3.0v31.5h-3.0zM144.4 97.2h2.0v31.5h-2.0zM174.9 113.0h1.0v15.8h-1.0zM178.0 144.5h5.0v15.3h-5.0zM185.0 144.5h1.0v15.3h-1.0zM187.0 144.5h2.0v15.3h-2.0zM190.0 144.5h1.0v15.3h-1.0zM202.0 144.5h1.0v15.3h-1.0zM204.0 144.5h1.0v15.3h-1.0zM206.0 144.5h7.0v15.3h-7.0zM215.0 144.5h1.0v15.3h-1.0zM220.0 144.5h1.0v15.3h-1.0zM225.0 144.5h3.0v15.3h-3.0zM229.0 144.5h3.0v15.3h-3.0zM237.0 144.5h2.0v15.3h-2.0zM242.0 144.5h1.0v15.3h-1.0zM244.0 144.5h1.0v15.3h-1.0zM246.0 144.5h4.0v15.3h-4.0zM290.0 65.2h2.0v32.0h-2.0zM306.7 65.2h1.9v32.0h-1.9zM309.5 65.2h1.0v32.0h-1.0zM323.0 33.2h1.0v16.0h-1.0zM330.2 33.2h1.0v16.0h-1.0zM332.3 33.2h1.0v16.0h-1.0zM334.3 33.2h2.1v16.0h-2.1zM330.2 49.2h1.0v16.0h-1.0zM332.3 49.2h1.0v16.0h-1.0zM334.3 49.2h2.1v16.0h-2.1zM403.3 33.2h1.0v16.0h-1.0zM406.3 33.2h1.0v16.0h-1.0zM411.3 33.2h2.0v16.0h-2.0zM427.0 97.2h1.0v31.5h-1.0zM430.1 97.2h1.0v31.5h-1.0zM435.2 97.2h1.0v31.5h-1.0zM437.2 97.2h1.0v31.5h-1.0zM445.3 97.2h3.0v31.5h-3.0zM452.4 97.2h1.0v31.5h-1.0zM488.0 144.5h4.0v15.3h-4.0zM493.0 144.5h1.0v15.3h-1.0zM496.0 144.5h1.0v15.3h-1.0zM498.0 144.5h3.0v15.3h-3.0zM505.0 144.5h1.0v15.3h-1.0zM510.0 144.5h1.0v15.3h-1.0zM512.0 144.5h1.0v15.3h-1.0zM516.0 144.5h2.0v15.3h-2.0zM519.0 144.5h1.0v15.3h-1.0zM522.0 144.5h1.0v15.3h-1.0zM525.0 144.5h2.0v15.3h-2.0zM528.0 144.5h2.0v15.3h-2.0zM535.0 144.5h6.0v15.3h-6.0zM119.0 127.7h30.5v1h-30.5zM178.0 158.7h74.0v1h-74.0zM323.0 33.2h16.5v1h-16.5zM425.0 127.7h30.5v1h-30.5zM484.0 158.7h59.0v1h-59.0zM160.0 66.2h1.5v31.0h-1.5zM269.5 65.2h1.5v32.0h-1.5zM466.0 66.2h1.5v31.0h-1.5zM266.3 97.2h1.2v61.1h-1.2z"/>
<path fill="#999900" fill-opacity="0.5" d="M98.3 49.2h1.0v16.0h-1.0zM83.1 65.2h1.0v15.5h-1.0zM85.1 65.2h1.0v15.5h-1.0zM87.1 65.2h3.0v15.5h-3.0zM100.2 65.2h1.0v15.5h-1.0zM105.3 65.2h2.0v15.5h-2.0zM107.3 65.2h1.0v15.5h-1.0zM122.9 65.2h2.0v15.5h-2.0zM128.8 65.2h1.0v15.5h-1.0zM132.8 65.2h1.0v15.5h-1.0zM143.6 65.2h2.0v15.5h-2.0zM148.5 65.2h1.0v15.5h-1.0zM132.8 80.7h1.0v16.5h-1.0zM179.0 128.7h4.0v15.8h-4.0zM187.0 128.7h1.0v15.8h-1.0zM189.0 128.7h1.0v15.8h-1.0zM206.0 128.7h2.0v15.8h-2.0zM215.0 128.7h2.0v15.8h-2.0zM218.0 128.7h1.0v15.8h-1.0zM221.0 128.7h1.0v15.8h-1.0zM225.0 128.7h3.0v15.8h-3.0zM229.0 128.7h3.0v15.8h-3.0zM235.0 128.7h3.0v15.8h-3.0zM239.0 128.7h2.0v15.8h-2.0zM242.0 128.7h1.0v15.8h-1.0zM245.0 128.7h2.0v15.8h-2.0zM250.0 128.7h1.0v15.8h-1.0zM297.7 97.2h2.0v31.5h-2.0zM302.6 97.2h1.0v31.5h-1.0zM307.5 97.2h3.0v31.5h-3.0zM312.6 65.2h1.0v15.5h-1.0zM314.7 65.2h1.0v15.5h-1.0zM317.8 65.2h1.0v15.5h-1.0zM322.0 65.2h1.0v15.5h-1.0zM339.5 33.2h1.0v16.0h-1.0zM348.4 33.2h2.0v16.0h-2.0zM367.3 33.2h1.0v16.0h-1.0zM369.2 33.2h2.0v16.0h-2.0zM373.2 33.2h1.0v16.0h-1.0zM376.2 33.2h1.0v16.0h-1.0zM378.2 33.2h2.0v16.0h-2.0zM383.1 33.2h2.0v16.0h-2.0zM388.1 33.2h2.0v16.0h-2.0zM394.0 33.2h1.0v16.0h-1.0zM396.0 33.2h1.0v16.0h-1.0zM403.3 49.2h1.0v16.0h-1.0zM411.3 49.2h2.0v16.0h-2.0zM327.0 65.2h1.0v15.5h-1.0zM330.0 65.2h1.0v15.5h-1.0zM332.0 65.2h1.0v15.5h-1.0zM335.0 65.2h1.0v15.5h-1.0zM339.0 65.2h1.0v15.5h-1.0zM393.1 65.2h1.0v15.5h-1.0zM395.1 65.2h1.0v15.5h-1.0zM398.1 65.2h1.0v15.5h-1.0zM405.2 65.2h1.0v15.5h-1.0zM415.2 65.2h1.0v15.5h-1.0zM418.2 65.2h1.0v15.5h-1.0zM423.1 65.2h1.0v15.5h-1.0zM418.2 80.7h1.0v16.5h-1.0zM427.0 65.2h1.0v15.5h-1.0zM434.8 65.2h1.0v15.5h-1.0zM436.8 65.2h1.0v15.5h-1.0zM444.7 65.2h3.0v15.5h-3.0zM451.6 65.2h1.0v15.5h-1.0zM454.5 65.2h1.0v15.5h-1.0zM444.7 80.7h1.0v16.5h-1.0zM446.7 80.7h1.0v16.5h-1.0zM451.6 80.7h1.0v16.5h-1.0zM488.0 128.7h3.0v15.8h-3.0zM493.0 128.7h4.0v15.8h-4.0zM498.0 128.7h1.0v15.8h-1.0zM505.0 128.7h1.0v15.8h-1.0zM512.0 128.7h1.0v15.8h-1.0zM516.0 128.7h2.0v15.8h-2.0zM519.0 128.7h1.0v15.8h-1.0zM522.0 128.7h1.0v15.8h-1.0zM528.0 128.7h2.0v15.8h-2.0zM536.0 128.7h2.0v15.8h-2.0zM542.0 128.7h1.0v15.8h-1.0z"/>
<path fill="#999900" fill-opacity="0.6" d="M65.3 33.2h1.0v16.0h-1.0zM74.2 33.2h1.0v16.0h-1.0zM81.1 33.2h1.0v16.0h-1.0zM85.1 33.2h1.0v16.0h-1.0zM88.0 33.2h1.0v16.0h-1.0zM65.3 49.2h1.0v16.0h-1.0zM81.1 49.2h1.0v16.0h-1.0zM95.3 33.2h3.0v16.0h-3.0zM99.3 33.2h3.0v16.0h-3.0zM103.3 33.2h1.0v16.0h-1.0zM95.3 49.2h2.0v16.0h-2.0zM99.3 49.2h3.0v16.0h-3.0zM103.3 49.2h1.0v16.0h-1.0zM167.8 113.0h1.0v15.8h-1.0zM233.0 113.0h1.0v15.8h-1.0zM183.0 144.5h2.0v15.3h-2.0zM186.0 144.5h1.0v15.3h-1.0zM193.0 144.5h1.0v15.3h-1.0zM195.0 144.5h1.0v15.3h-1.0zM197.0 144.5h3.0v15.3h-3.0zM201.0 144.5h1.0v15.3h-1.0zM217.0 144.5h1.0v15.3h-1.0zM219.0 144.5h1.0v15.3h-1.0zM223.0 144.5h2.0v15.3h-2.0zM232.0 144.5h2.0v15.3h-2.0zM241.0 144.5h1.0v15.3h-1.0zM251.0 144.5h1.0v15.3h-1.0zM257.0 113.0h1.0v15.8h-1.0zM261.0 113.0h1.0v15.8h-1.0zM265.0 113.0h2.0v15.8h-2.0zM276.0 113.0h1.0v15.8h-1.0zM297.0 65.2h2.0v32.0h-2.0zM326.1 33.2h1.0v16.0h-1.0zM328.2 33.2h2.1v16.0h-2.1zM331.2 33.2h1.0v16.0h-1.0zM333.3 33.2h1.0v16.0h-1.0zM336.4 33.2h3.1v16.0h-3.1zM323.0 49.2h1.0v16.0h-1.0zM326.1 49.2h1.0v16.0h-1.0zM328.2 49.2h2.1v16.0h-2.1zM331.2 49.2h1.0v16.0h-1.0zM336.4 49.2h3.1v16.0h-3.1zM339.5 49.2h1.0v16.0h-1.0zM370.2 49.2h1.0v16.0h-1.0zM373.2 49.2h1.0v16.0h-1.0zM378.2 49.2h2.0v16.0h-2.0zM383.1 49.2h1.0v16.0h-1.0zM388.1 49.2h2.0v16.0h-2.0zM400.3 33.2h1.0v16.0h-1.0zM404.3 33.2h1.0v16.0h-1.0zM409.3 33.2h1.0v16.0h-1.0zM404.3 49.2h1.0v16.0h-1.0zM406.3 49.2h1.0v16.0h-1.0zM409.3 49.2h1.0v16.0h-1.0zM461.6 113.0h1.0v15.8h-1.0zM474.8 113.0h1.0v15.8h-1.0zM483.0 113.0h1.0v15.8h-1.0zM487.0 113.0h1.0v15.8h-1.0zM493.0 113.0h1.0v15.8h-1.0zM496.0 113.0h1.0v15.8h-1.0zM484.0 144.5h4.0v15.3h-4.0zM492.0 144.5h1.0v15.3h-1.0zM501.0 144.5h4.0v15.3h-4.0zM506.0 144.5h4.0v15.3h-4.0zM513.0 144.5h3.0v15.3h-3.0zM518.0 144.5h1.0v15.3h-1.0zM521.0 144.5h1.0v15.3h-1.0zM523.0 144.5h2.0v15.3h-2.0zM530.0 144.5h2.0v15.3h-2.0zM533.0 144.5h1.0v15.3h-1.0zM279.0 127.7h31.5v1h-31.5zM263.3 97.2h1.4v61.1h-1.4zM472.4 97.2h2.0v61.1h-2.0z"/>
<path fill="#999900" fill-opacity="0.7" d="M45.5 65.2h0.5v15.5h-0.5zM78.0 65.2h3.0v15.5h-3.0zM82.0 65.2h1.0v15.5h-1.0zM86.1 65.2h1.0v15.5h-1.0zM92.1 65.2h1.0v15.5h-1.0zM95.2 65.2h1.0v15.5h-1.0zM97.2 65.2h1.0v15.5h-1.0zM101.2 65.2h1.0v15.5h-1.0zM103.3 65.2h1.0v15.5h-1.0zM66.4 80.7h1.0v16.5h-1.0zM108.3 65.2h6.8v15.5h-6.8zM116.1 65.2h2.9v15.5h-2.9zM107.3 80.7h1.0v16.5h-1.0zM110.2 80.7h3.9v16.5h-3.9zM121.0 65.2h1.0v15.5h-1.0zM124.9 65.2h3.9v15.5h-3.9zM131.8 65.2h1.0v15.5h-1.0zM133.8 65.2h1.0v15.5h-1.0zM135.7 65.2h2.0v15.5h-2.0zM138.7 65.2h2.0v15.5h-2.0zM145.6 65.2h1.0v15.5h-1.0zM122.9 80.7h1.0v16.5h-1.0zM124.9 80.7h1.0v16.5h-1.0zM127.9 80.7h2.0v16.5h-2.0zM133.8 80.7h1.0v16.5h-1.0zM139.7 80.7h1.0v16.5h-1.0zM143.6 80.7h1.0v16.5h-1.0zM148.5 80.7h1.0v16.5h-1.0zM121.0 97.2h1.0v31.5h-1.0zM125.1 97.2h1.0v31.5h-1.0zM127.1 97.2h2.0v31.5h-2.0zM132.2 97.2h1.0v31.5h-1.0zM134.2 97.2h1.0v31.5h-1.0zM139.3 97.2h2.0v31.5h-2.0zM146.4 97.2h1.0v31.5h-1.0zM151.5 113.0h1.0v15.8h-1.0zM156.6 113.0h1.0v15.8h-1.0zM158.7 113.0h1.0v15.8h-1.0zM161.7 113.0h1.0v15.8h-1.0zM168.8 113.0h3.1v15.8h-3.1zM176.0 113.0h2.0v15.8h-2.0zM179.0 113.0h4.0v15.8h-4.0zM188.0 113.0h1.0v15.8h-1.0zM178.0 128.7h1.0v15.8h-1.0zM183.0 128.7h4.0v15.8h-4.0zM188.0 128.7h1.0v15.8h-1.0zM190.0 128.7h1.0v15.8h-1.0zM197.0 128.7h3.0v15.8h-3.0zM201.0 128.7h4.0v15.8h-4.0zM208.0 128.7h5.0v15.8h-5.0zM217.0 128.7h1.0v15.8h-1.0zM219.0 128.7h2.0v15.8h-2.0zM222.0 128.7h2.0v15.8h-2.0zM232.0 128.7h2.0v15.8h-2.0zM238.0 128.7h1.0v15.8h-1.0zM241.0 128.7h1.0v15.8h-1.0zM244.0 128.7h1.0v15.8h-1.0zM247.0 128.7h3.0v15.8h-3.0zM251.0 128.7h1.0v15.8h-1.0zM191.0 144.5h2.0v15.3h-2.0zM194.0 144.5h1.0v15.3h-1.0zM205.0 144.5h1.0v15.3h-1.0zM213.0 144.5h2.0v15.3h-2.0zM228.0 144.5h1.0v15.3h-1.0zM234.0 144.5h1.0v15.3h-1.0zM243.0 144.5h1.0v15.3h-1.0zM252.0 113.0h1.0v15.8h-1.0zM262.0 113.0h3.0v15.8h-3.0zM267.0 113.0h1.0v15.8h-1.0zM269.0 113.0h1.0v15.8h-1.0zM271.0 113.0h2.0v15.8h-2.0zM274.0 113.0h1.0v15.8h-1.0zM278.0 113.0h1.0v15.8h-1.0zM280.0 65.2h1.0v32.0h-1.0zM282.0 65.2h6.0v32.0h-6.0zM293.0 65.2h3.0v32.0h-3.0zM302.8 65.2h1.9v32.0h-1.9zM305.7 65.2h1.0v32.0h-1.0zM308.6 65.2h1.0v32.0h-1.0zM318.8 65.2h1.0v15.5h-1.0zM341.5 33.2h1.0v16.0h-1.0zM343.5 33.2h1.0v16.0h-1.0zM345.4 33.2h3.0v16.0h-3.0zM352.4 33.2h1.0v16.0h-1.0zM354.4 33.2h1.0v16.0h-1.0zM357.3 33.2h3.0v16.0h-3.0zM362.3 33.2h4.0v16.0h-4.0zM372.2 33.2h1.0v16.0h-1.0zM380.1 33.2h2.0v16.0h-2.0zM385.1 33.2h1.0v16.0h-1.0zM390.1 33.2h4.0v16.0h-4.0zM341.5 49.2h1.0v16.0h-1.0zM345.4 49.2h3.0v16.0h-3.0zM352.4 49.2h1.0v16.0h-1.0zM354.4 49.2h1.0v16.0h-1.0zM357.3 49.2h3.0v16.0h-3.0zM362.3 49.2h4.0v16.0h-4.0zM367.3 49.2h1.0v16.0h-1.0zM369.2 49.2h1.0v16.0h-1.0zM372.2 49.2h1.0v16.0h-1.0zM376.2 49.2h1.0v16.0h-1.0zM384.1 49.2h2.0v16.0h-2.0zM390.1 49.2h2.0v16.0h-2.0zM394.0 49.2h1.0v16.0h-1.0zM396.0 49.2h1.0v16.0h-1.0zM326.0 65.2h1.0v15.5h-1.0zM331.0 65.2h1.0v15.5h-1.0zM336.0 65.2h3.0v15.5h-3.0zM342.0 65.2h1.0v15.5h-1.0zM344.0 65.2h1.0v15.5h-1.0zM346.0 65.2h6.0v15.5h-6.0zM384.0 65.2h3.0v15.5h-3.0zM390.1 65.2h1.0v15.5h-1.0zM392.1 65.2h1.0v15.5h-1.0zM394.1 65.2h1.0v15.5h-1.0zM396.1 65.2h2.0v15.5h-2.0zM399.2 65.2h1.0v15.5h-1.0zM401.2 65.2h1.0v15.5h-1.0zM406.2 65.2h3.0v15.5h-3.0zM411.3 65.2h2.0v15.5h-2.0zM413.3 65.2h1.9v15.5h-1.9zM416.2 65.2h1.9v15.5h-1.9zM419.1 65.2h2.9v15.5h-2.9zM424.0 65.2h1.0v15.5h-1.0zM414.3 80.7h1.0v16.5h-1.0zM416.2 80.7h1.9v16.5h-1.9zM423.1 80.7h1.0v16.5h-1.0zM425.0 65.2h1.0v15.5h-1.0zM429.9 65.2h2.0v15.5h-2.0zM432.9 65.2h2.0v15.5h-2.0zM435.8 65.2h1.0v15.5h-1.0zM437.8 65.2h4.9v15.5h-4.9zM447.6 65.2h2.0v15.5h-2.0zM425.0 80.7h1.0v16.5h-1.0zM427.0 80.7h1.0v16.5h-1.0zM430.9 80.7h1.0v16.5h-1.0zM432.9 80.7h1.0v16.5h-1.0zM434.8 80.7h2.0v16.5h-2.0zM439.8 80.7h3.0v16.5h-3.0zM454.5 80.7h1.0v16.5h-1.0zM425.0 97.2h2.0v31.5h-2.0zM428.1 97.2h2.0v31.5h-2.0zM431.1 97.2h1.0v31.5h-1.0zM433.1 97.2h2.0v31.5h-2.0zM436.2 97.2h1.0v31.5h-1.0zM438.2 97.2h5.1v31.5h-5.1zM448.4 97.2h2.0v31.5h-2.0zM455.5 113.0h2.0v15.8h-2.0zM460.6 113.0h1.0v15.8h-1.0zM462.6 113.0h1.0v15.8h-1.0zM464.7 113.0h1.0v15.8h-1.0zM471.8 113.0h1.0v15.8h-1.0zM473.8 113.0h1.0v15.8h-1.0zM477.9 113.0h1.0v15.8h-1.0zM480.9 113.0h2.0v15.8h-2.0zM484.0 113.0h1.0v15.8h-1.0zM486.0 113.0h1.0v15.8h-1.0zM488.0 113.0h2.0v15.8h-2.0zM484.0 128.7h2.0v15.8h-2.0zM491.0 128.7h2.0v15.8h-2.0zM499.0 128.7h2.0v15.8h-2.0zM502.0 128.7h3.0v15.8h-3.0zM506.0 128.7h5.0v15.8h-5.0zM513.0 128.7h1.0v15.8h-1.0zM518.0 128.7h1.0v15.8h-1.0zM523.0 128.7h2.0v15.8h-2.0zM526.0 128.7h1.0v15.8h-1.0zM530.0 128.7h2.0v15.8h-2.0zM533.0 128.7h1.0v15.8h-1.0zM535.0 128.7h1.0v15.8h-1.0zM527.0 144.5h1.0v15.3h-1.0zM534.0 144.5h1.0v15.3h-1.0z"/>
<path fill="#999900" fill-opacity="0.8" d="M45.5 33.2h1.0v16.0h-1.0zM47.5 33.2h1.0v16.0h-1.0zM49.5 33.2h1.0v16.0h-1.0zM55.4 33.2h2.0v16.0h-2.0zM62.3 33.2h1.0v16.0h-1.0zM64.3 33.2h1.0v16.0h-1.0zM69.2 33.2h1.0v16.0h-1.0zM75.2 33.2h1.0v16.0h-1.0zM80.1 33.2h1.0v16.0h-1.0zM45.5 49.2h1.0v16.0h-1.0zM47.5 49.2h1.0v16.0h-1.0zM49.5 49.2h1.0v16.0h-1.0zM64.3 49.2h1.0v16.0h-1.0zM74.2 49.2h2.0v16.0h-2.0zM80.1 49.2h1.0v16.0h-1.0zM88.0 49.2h1.0v16.0h-1.0zM94.3 33.2h1.0v16.0h-1.0zM102.3 33.2h1.0v16.0h-1.0zM104.3 33.2h3.0v16.0h-3.0zM94.3 49.2h1.0v16.0h-1.0zM97.3 49.2h1.0v16.0h-1.0zM102.3 49.2h1.0v16.0h-1.0zM104.3 49.2h3.0v16.0h-3.0zM53.5 80.7h1.0v16.5h-1.0zM56.5 80.7h1.0v16.5h-1.0zM71.4 80.7h2.0v16.5h-2.0zM105.3 80.7h1.0v16.5h-1.0zM115.1 65.2h1.0v15.5h-1.0zM120.0 65.2h1.0v15.5h-1.0zM122.0 65.2h1.0v15.5h-1.0zM129.8 65.2h2.0v15.5h-2.0zM134.8 65.2h1.0v15.5h-1.0zM137.7 65.2h1.0v15.5h-1.0zM140.7 65.2h3.0v15.5h-3.0zM146.6 65.2h2.0v15.5h-2.0zM149.5 65.2h1.0v15.5h-1.0zM158.7 97.2h1.0v15.8h-1.0zM177.0 97.2h1.0v15.8h-1.0zM225.0 97.2h3.0v15.8h-3.0zM203.0 113.0h1.0v15.8h-1.0zM209.0 113.0h1.0v15.8h-1.0zM215.0 113.0h1.0v15.8h-1.0zM228.0 113.0h1.0v15.8h-1.0zM239.0 113.0h1.0v15.8h-1.0zM191.0 128.7h5.0v15.8h-5.0zM205.0 128.7h1.0v15.8h-1.0zM213.0 128.7h2.0v15.8h-2.0zM224.0 128.7h1.0v15.8h-1.0zM228.0 128.7h1.0v15.8h-1.0zM234.0 128.7h1.0v15.8h-1.0zM243.0 128.7h1.0v15.8h-1.0zM263.0 97.2h1.0v15.8h-1.0zM266.0 97.2h2.0v15.8h-2.0zM274.0 97.2h1.0v15.8h-1.0zM276.0 97.2h1.0v15.8h-1.0zM310.5 65.2h2.1v15.5h-2.1zM313.6 65.2h1.0v15.5h-1.0zM315.7 65.2h2.1v15.5h-2.1zM324.0 33.2h2.1v16.0h-2.1zM327.1 33.2h1.0v16.0h-1.0zM324.0 49.2h2.1v16.0h-2.1zM327.1 49.2h1.0v16.0h-1.0zM333.3 49.2h1.0v16.0h-1.0zM340.5 33.2h1.0v16.0h-1.0zM342.5 33.2h1.0v16.0h-1.0zM344.5 33.2h1.0v16.0h-1.0zM350.4 33.2h2.0v16.0h-2.0zM353.4 33.2h1.0v16.0h-1.0zM355.4 33.2h2.0v16.0h-2.0zM360.3 33.2h2.0v16.0h-2.0zM366.3 33.2h1.0v16.0h-1.0zM368.2 33.2h1.0v16.0h-1.0zM371.2 33.2h1.0v16.0h-1.0zM374.2 33.2h2.0v16.0h-2.0zM377.2 33.2h1.0v16.0h-1.0zM382.1 33.2h1.0v16.0h-1.0zM386.1 33.2h2.0v16.0h-2.0zM395.0 33.2h1.0v16.0h-1.0zM401.3 33.2h2.0v16.0h-2.0zM407.3 33.2h2.0v16.0h-2.0zM410.3 33.2h1.0v16.0h-1.0zM400.3 49.2h3.0v16.0h-3.0zM407.3 49.2h2.0v16.0h-2.0zM410.3 49.2h1.0v16.0h-1.0zM359.1 80.7h1.0v16.5h-1.0zM368.1 80.7h1.0v16.5h-1.0zM388.2 80.7h1.0v16.5h-1.0zM422.1 65.2h1.0v15.5h-1.0zM426.0 65.2h1.0v15.5h-1.0zM428.0 65.2h2.0v15.5h-2.0zM431.9 65.2h1.0v15.5h-1.0zM442.7 65.2h2.0v15.5h-2.0zM449.6 65.2h2.0v15.5h-2.0zM452.6 65.2h2.0v15.5h-2.0zM455.5 65.2h1.0v15.5h-1.0zM471.8 97.2h1.0v15.8h-1.0zM474.8 97.2h1.0v15.8h-1.0zM510.0 97.2h1.0v15.8h-1.0zM535.0 97.2h1.0v15.8h-1.0zM502.0 113.0h2.0v15.8h-2.0zM527.0 113.0h2.0v15.8h-2.0zM534.0 113.0h1.0v15.8h-1.0zM486.0 128.7h2.0v15.8h-2.0zM501.0 128.7h1.0v15.8h-1.0zM514.0 128.7h2.0v15.8h-2.0zM521.0 128.7h1.0v15.8h-1.0zM525.0 128.7h1.0v15.8h-1.0zM527.0 128.7h1.0v15.8h-1.0zM534.0 128.7h1.0v15.8h-1.0zM538.0 128.7h3.0v15.8h-3.0zM249.6 97.2h2.2v63.0h-2.2z"/>
<path fill="#999900" fill-opacity="0.9" d="M46.5 33.2h1.0v16.0h-1.0zM48.5 33.2h1.0v16.0h-1.0zM50.4 33.2h4.9v16.0h-4.9zM57.4 33.2h4.9v16.0h-4.9zM63.3 33.2h1.0v16.0h-1.0zM66.3 33.2h3.0v16.0h-3.0zM70.2 33.2h4.0v16.0h-4.0zM76.2 33.2h4.0v16.0h-4.0zM82.1 33.2h3.0v16.0h-3.0zM86.1 33.2h2.0v16.0h-2.0zM89.0 33.2h2.0v16.0h-2.0zM46.5 49.2h1.0v16.0h-1.0zM48.5 49.2h1.0v16.0h-1.0zM50.4 49.2h13.8v16.0h-13.8zM66.3 49.2h7.9v16.0h-7.9zM76.2 49.2h4.0v16.0h-4.0zM82.1 49.2h5.9v16.0h-5.9zM89.0 49.2h2.0v16.0h-2.0zM81.0 65.2h1.0v15.5h-1.0zM84.1 65.2h1.0v15.5h-1.0zM90.1 65.2h2.0v15.5h-2.0zM93.2 65.2h2.0v15.5h-2.0zM98.2 65.2h2.0v15.5h-2.0zM102.2 65.2h1.0v15.5h-1.0zM104.3 65.2h1.0v15.5h-1.0zM149.5 113.0h2.0v15.8h-2.0zM152.6 113.0h4.1v15.8h-4.1zM157.6 113.0h1.0v15.8h-1.0zM159.7 113.0h2.0v15.8h-2.0zM162.7 113.0h5.1v15.8h-5.1zM171.9 113.0h3.1v15.8h-3.1zM178.0 113.0h1.0v15.8h-1.0zM183.0 113.0h5.0v15.8h-5.0zM189.0 113.0h2.0v15.8h-2.0zM253.0 113.0h4.0v15.8h-4.0zM258.0 113.0h3.0v15.8h-3.0zM268.0 113.0h1.0v15.8h-1.0zM270.0 113.0h1.0v15.8h-1.0zM273.0 113.0h1.0v15.8h-1.0zM275.0 113.0h1.0v15.8h-1.0zM277.0 113.0h1.0v15.8h-1.0zM279.0 65.2h1.0v32.0h-1.0zM281.0 65.2h1.0v32.0h-1.0zM288.0 65.2h2.0v32.0h-2.0zM296.0 65.2h1.0v32.0h-1.0zM299.0 65.2h3.8v32.0h-3.8zM340.5 49.2h1.0v16.0h-1.0zM342.5 49.2h3.0v16.0h-3.0zM348.4 49.2h4.0v16.0h-4.0zM353.4 49.2h1.0v16.0h-1.0zM355.4 49.2h2.0v16.0h-2.0zM360.3 49.2h2.0v16.0h-2.0zM366.3 49.2h1.0v16.0h-1.0zM368.2 49.2h1.0v16.0h-1.0zM371.2 49.2h1.0v16.0h-1.0zM374.2 49.2h2.0v16.0h-2.0zM377.2 49.2h1.0v16.0h-1.0zM380.1 49.2h3.0v16.0h-3.0zM386.1 49.2h2.0v16.0h-2.0zM392.0 49.2h2.0v16.0h-2.0zM395.0 49.2h1.0v16.0h-1.0zM323.0 65.2h3.0v15.5h-3.0zM328.0 65.2h2.0v15.5h-2.0zM333.0 65.2h2.0v15.5h-2.0zM340.0 65.2h2.0v15.5h-2.0zM343.0 65.2h1.0v15.5h-1.0zM345.0 65.2h1.0v15.5h-1.0zM387.0 65.2h3.0v15.5h-3.0zM391.1 65.2h1.0v15.5h-1.0zM400.2 65.2h1.0v15.5h-1.0zM402.2 65.2h3.0v15.5h-3.0zM409.3 65.2h2.0v15.5h-2.0zM457.5 113.0h3.1v15.8h-3.1zM463.6 113.0h1.0v15.8h-1.0zM465.7 113.0h6.1v15.8h-6.1zM472.8 113.0h1.0v15.8h-1.0zM475.9 113.0h2.0v15.8h-2.0zM478.9 113.0h2.0v15.8h-2.0zM485.0 113.0h1.0v15.8h-1.0zM490.0 113.0h3.0v15.8h-3.0zM494.0 113.0h2.0v15.8h-2.0z"/>
<path fill="#999900" fill-opacity="1" d="M46.0 65.2h32.0v15.5h-32.0zM45.5 80.7h8.0v16.5h-8.0zM54.5 80.7h2.0v16.5h-2.0zM57.5 80.7h9.0v16.5h-9.0zM67.4 80.7h4.0v16.5h-4.0zM73.4 80.7h31.9v16.5h-31.9zM106.3 80.7h1.0v16.5h-1.0zM108.3 80.7h1.9v16.5h-1.9zM114.1 80.7h4.9v16.5h-4.9zM119.0 80.7h3.9v16.5h-3.9zM123.9 80.7h1.0v16.5h-1.0zM125.9 80.7h2.0v16.5h-2.0zM129.8 80.7h3.0v16.5h-3.0zM134.8 80.7h4.9v16.5h-4.9zM140.7 80.7h3.0v16.5h-3.0zM144.6 80.7h3.9v16.5h-3.9zM149.5 80.7h1.0v16.5h-1.0zM120.0 97.2h1.0v31.5h-1.0zM122.0 97.2h1.0v31.5h-1.0zM130.2 97.2h2.0v31.5h-2.0zM138.3 97.2h1.0v31.5h-1.0zM141.4 97.2h3.0v31.5h-3.0zM147.5 97.2h2.0v31.5h-2.0zM149.5 97.2h9.2v15.8h-9.2zM159.7 97.2h17.3v15.8h-17.3zM178.0 97.2h47.0v15.8h-47.0zM228.0 97.2h24.0v15.8h-24.0zM191.0 113.0h12.0v15.8h-12.0zM204.0 113.0h5.0v15.8h-5.0zM210.0 113.0h5.0v15.8h-5.0zM216.0 113.0h12.0v15.8h-12.0zM229.0 113.0h4.0v15.8h-4.0zM234.0 113.0h5.0v15.8h-5.0zM240.0 113.0h12.0v15.8h-12.0zM252.0 97.2h11.0v15.8h-11.0zM264.0 97.2h2.0v15.8h-2.0zM268.0 97.2h6.0v15.8h-6.0zM275.0 97.2h1.0v15.8h-1.0zM277.0 97.2h2.0v15.8h-2.0zM310.5 80.7h12.5v16.5h-12.5zM352.0 65.2h32.0v15.5h-32.0zM323.0 80.7h36.1v16.5h-36.1zM360.1 80.7h8.0v16.5h-8.0zM369.2 80.7h19.1v16.5h-19.1zM389.2 80.7h24.1v16.5h-24.1zM413.3 80.7h1.0v16.5h-1.0zM415.2 80.7h1.0v16.5h-1.0zM419.1 80.7h3.9v16.5h-3.9zM424.0 80.7h1.0v16.5h-1.0zM426.0 80.7h1.0v16.5h-1.0zM428.0 80.7h3.0v16.5h-3.0zM431.9 80.7h1.0v16.5h-1.0zM433.9 80.7h1.0v16.5h-1.0zM436.8 80.7h3.0v16.5h-3.0zM442.7 80.7h2.0v16.5h-2.0zM445.7 80.7h1.0v16.5h-1.0zM447.6 80.7h3.9v16.5h-3.9zM452.6 80.7h2.0v16.5h-2.0zM455.5 80.7h1.0v16.5h-1.0zM432.1 97.2h1.0v31.5h-1.0zM443.3 97.2h2.0v31.5h-2.0zM450.4 97.2h2.0v31.5h-2.0zM453.5 97.2h2.0v31.5h-2.0zM455.5 97.2h16.3v15.8h-16.3zM472.8 97.2h2.0v15.8h-2.0zM475.9 97.2h8.1v15.8h-8.1zM484.0 97.2h26.0v15.8h-26.0zM511.0 97.2h24.0v15.8h-24.0zM536.0 97.2h7.0v15.8h-7.0zM497.0 113.0h5.0v15.8h-5.0zM504.0 113.0h23.0v15.8h-23.0zM529.0 113.0h5.0v15.8h-5.0zM535.0 113.0h8.0v15.8h-8.0z"/>
<rect x="348.8" y="97.2" width="1.0" height="95.8" fill="#7a7a20" fill-opacity="0.85"/>
<rect x="409.6" y="97.2" width="1.0" height="95.8" fill="#6a6a20" fill-opacity="0.85"/>
<rect x="434.6" y="160.0" width="1.0" height="33.0" fill="#999900" fill-opacity="0.60"/>
<rect x="434.6" y="12.0" width="1.2" height="85.2" fill="#000080" fill-opacity="0.80"/>
<rect x="494.4" y="12.0" width="1.2" height="21.0" fill="#999900" fill-opacity="0.35"/>
</g>
<text class="cap c1" y="181.5"><tspan x="129.3" textLength="84.2" lengthAdjust="spacingAndGlyphs">Load voltages</tspan> <tspan x="216.4" textLength="7.2">v</tspan><tspan class="sub" x="224" y="184.6" textLength="10.6">La,</tspan> <tspan x="242.6" y="181.5" textLength="7.2">v</tspan><tspan class="sub" x="250.2" y="184.6" textLength="10.8">Lb,</tspan> <tspan x="263.9" y="181.5" textLength="7.2">v</tspan><tspan class="sub" x="271.5" y="184.6" textLength="8.8">Lc</tspan></text>
</g>
<g id="p2">
<rect x="45" y="213.0" width="1" height="176.0" fill="#b2b2ba"/>
<text x="44.8" y="226.8" class="yt" text-anchor="end" textLength="8.2" lengthAdjust="spacingAndGlyphs">600000</text>
<text x="44.8" y="251.0" class="yt" text-anchor="end" textLength="8.2" lengthAdjust="spacingAndGlyphs">400000</text>
<text x="44.8" y="275.2" class="yt" text-anchor="end" textLength="8.2" lengthAdjust="spacingAndGlyphs">200000</text>
<text x="44.8" y="323.6" class="yt" text-anchor="end" textLength="8.2" lengthAdjust="spacingAndGlyphs">-200000</text>
<text x="44.8" y="347.8" class="yt" text-anchor="end" textLength="8.2" lengthAdjust="spacingAndGlyphs">-400000</text>
<text x="44.8" y="372.0" class="yt" text-anchor="end" textLength="8.2" lengthAdjust="spacingAndGlyphs">-600000</text>
<text x="61.1" y="302.5" class="xt" text-anchor="middle" textLength="5" lengthAdjust="spacingAndGlyphs">250</text>
<text x="76.2" y="302.5" class="xt" text-anchor="middle" textLength="5" lengthAdjust="spacingAndGlyphs">500</text>
<text x="91.3" y="302.5" class="xt" text-anchor="middle" textLength="5" lengthAdjust="spacingAndGlyphs">750</text>
<text x="106.5" y="302.5" class="xt" text-anchor="middle" textLength="5" lengthAdjust="spacingAndGlyphs">1000</text>
<text x="121.6" y="302.5" class="xt" text-anchor="middle" textLength="5" lengthAdjust="spacingAndGlyphs">1250</text>
<text x="136.7" y="302.5" class="xt" text-anchor="middle" textLength="5" lengthAdjust="spacingAndGlyphs">1500</text>
<text x="151.9" y="302.5" class="xt" text-anchor="middle" textLength="5" lengthAdjust="spacingAndGlyphs">1750</text>
<text x="167.0" y="302.5" class="xt" text-anchor="middle" textLength="5" lengthAdjust="spacingAndGlyphs">2000</text>
<text x="182.1" y="302.5" class="xt" text-anchor="middle" textLength="5" lengthAdjust="spacingAndGlyphs">2250</text>
<text x="197.2" y="302.5" class="xt" text-anchor="middle" textLength="5" lengthAdjust="spacingAndGlyphs">2500</text>
<text x="212.4" y="302.5" class="xt" text-anchor="middle" textLength="5" lengthAdjust="spacingAndGlyphs">2750</text>
<text x="227.5" y="302.5" class="xt" text-anchor="middle" textLength="5" lengthAdjust="spacingAndGlyphs">3000</text>
<text x="242.6" y="302.5" class="xt" text-anchor="middle" textLength="5" lengthAdjust="spacingAndGlyphs">3250</text>
<text x="257.8" y="302.5" class="xt" text-anchor="middle" textLength="5" lengthAdjust="spacingAndGlyphs">3500</text>
<text x="272.9" y="302.5" class="xt" text-anchor="middle" textLength="5" lengthAdjust="spacingAndGlyphs">3750</text>
<text x="288.0" y="302.5" class="xt" text-anchor="middle" textLength="5" lengthAdjust="spacingAndGlyphs">4000</text>
<text x="303.2" y="302.5" class="xt" text-anchor="middle" textLength="5" lengthAdjust="spacingAndGlyphs">4250</text>
<text x="318.3" y="302.5" class="xt" text-anchor="middle" textLength="5" lengthAdjust="spacingAndGlyphs">4500</text>
<text x="333.4" y="302.5" class="xt" text-anchor="middle" textLength="5" lengthAdjust="spacingAndGlyphs">4750</text>
<text x="348.6" y="302.5" class="xt" text-anchor="middle" textLength="5" lengthAdjust="spacingAndGlyphs">5000</text>
<text x="363.7" y="302.5" class="xt" text-anchor="middle" textLength="5" lengthAdjust="spacingAndGlyphs">5250</text>
<text x="378.8" y="302.5" class="xt" text-anchor="middle" textLength="5" lengthAdjust="spacingAndGlyphs">5500</text>
<text x="393.9" y="302.5" class="xt" text-anchor="middle" textLength="5" lengthAdjust="spacingAndGlyphs">5750</text>
<text x="409.1" y="302.5" class="xt" text-anchor="middle" textLength="5" lengthAdjust="spacingAndGlyphs">6000</text>
<text x="424.2" y="302.5" class="xt" text-anchor="middle" textLength="5" lengthAdjust="spacingAndGlyphs">6250</text>
<text x="439.3" y="302.5" class="xt" text-anchor="middle" textLength="5" lengthAdjust="spacingAndGlyphs">6500</text>
<text x="454.5" y="302.5" class="xt" text-anchor="middle" textLength="5" lengthAdjust="spacingAndGlyphs">6750</text>
<text x="469.6" y="302.5" class="xt" text-anchor="middle" textLength="5" lengthAdjust="spacingAndGlyphs">7000</text>
<text x="484.7" y="302.5" class="xt" text-anchor="middle" textLength="5" lengthAdjust="spacingAndGlyphs">7250</text>
<text x="499.9" y="302.5" class="xt" text-anchor="middle" textLength="5" lengthAdjust="spacingAndGlyphs">7500</text>
<text x="515.0" y="302.5" class="xt" text-anchor="middle" textLength="5" lengthAdjust="spacingAndGlyphs">7750</text>
<text x="530.1" y="302.5" class="xt" text-anchor="middle" textLength="5" lengthAdjust="spacingAndGlyphs">8000</text>
<g filter="url(#soft)">
<path fill="#ff0033" fill-opacity="0.1" d="M75.0 266.3h18.0v1h-18.0zM95.0 266.3h11.5v1h-11.5zM381.0 266.3h18.0v1h-18.0zM401.0 266.3h11.5v1h-11.5z"/>
<path fill="#ff0033" fill-opacity="0.2" d="M76.0 297.8h2.0v31.9h-2.0zM80.9 297.8h1.0v31.9h-1.0zM92.7 297.8h1.0v31.9h-1.0zM100.6 297.8h1.0v31.9h-1.0zM221.0 297.8h2.0v31.9h-2.0zM224.1 297.8h4.1v31.9h-4.1zM230.2 297.8h1.0v31.9h-1.0zM232.2 297.8h4.1v31.9h-4.1zM239.3 297.8h1.0v31.9h-1.0zM247.4 297.8h1.0v31.9h-1.0zM384.9 297.8h1.0v31.9h-1.0zM386.9 297.8h1.0v31.9h-1.0zM394.8 297.8h1.0v31.9h-1.0zM402.7 297.8h2.0v31.9h-2.0zM409.5 297.8h2.0v31.9h-2.0zM530.0 297.8h1.0v31.9h-1.0zM538.0 297.8h1.0v31.9h-1.0zM541.0 297.8h1.0v31.9h-1.0zM48.0 328.7h27.0v1h-27.0zM135.5 234.9h57.5v1h-57.5zM119.0 266.3h29.0v1h-29.0zM180.0 266.3h29.3v1h-29.3zM251.5 328.7h28.5v1h-28.5zM354.0 328.7h27.0v1h-27.0zM441.5 234.9h57.5v1h-57.5zM425.0 266.3h29.0v1h-29.0zM486.0 266.3h29.3v1h-29.3z"/>
<path fill="#ff0033" fill-opacity="0.3" d="M94.0 266.3h1.0v31.5h-1.0zM78.0 297.8h3.0v31.9h-3.0zM86.8 297.8h5.9v31.9h-5.9zM93.7 297.8h2.0v31.9h-2.0zM96.7 297.8h3.0v31.9h-3.0zM101.6 297.8h2.0v31.9h-2.0zM129.3 234.9h1.0v15.7h-1.0zM129.3 250.6h1.0v15.7h-1.0zM207.3 234.9h1.0v15.7h-1.0zM223.0 297.8h1.0v31.9h-1.0zM228.1 297.8h1.0v31.9h-1.0zM231.2 297.8h1.0v31.9h-1.0zM236.2 297.8h1.0v31.9h-1.0zM238.3 297.8h1.0v31.9h-1.0zM240.3 297.8h7.1v31.9h-7.1zM248.4 297.8h1.0v31.9h-1.0zM381.0 297.8h3.9v31.9h-3.9zM385.9 297.8h1.0v31.9h-1.0zM387.9 297.8h2.0v31.9h-2.0zM390.8 297.8h1.0v31.9h-1.0zM392.8 297.8h1.0v31.9h-1.0zM395.8 297.8h1.0v31.9h-1.0zM398.7 297.8h3.9v31.9h-3.9zM404.6 297.8h1.0v31.9h-1.0zM406.6 297.8h3.0v31.9h-3.0zM429.1 234.9h2.1v15.7h-2.1zM432.2 234.9h1.0v15.7h-1.0zM438.4 234.9h1.0v15.7h-1.0zM429.1 250.6h2.1v15.7h-2.1zM514.3 234.9h1.0v15.7h-1.0zM528.0 297.8h2.0v31.9h-2.0zM531.0 297.8h4.0v31.9h-4.0zM536.0 297.8h2.0v31.9h-2.0zM539.0 297.8h2.0v31.9h-2.0zM542.0 297.8h1.0v31.9h-1.0zM45.5 360.1h2.5v1h-2.5zM106.5 266.3h12.5v1h-12.5zM209.3 266.3h11.7v1h-11.7zM221.0 266.3h31.5v1h-31.5zM280.0 360.1h74.0v1h-74.0zM412.5 266.3h12.5v1h-12.5zM515.3 266.3h11.7v1h-11.7zM527.0 266.3h16.0v1h-16.0z"/>
<path fill="#ff0033" fill-opacity="0.4" d="M75.0 297.8h1.0v31.9h-1.0zM81.9 297.8h4.9v31.9h-4.9zM95.7 297.8h1.0v31.9h-1.0zM121.1 234.9h8.2v15.7h-8.2zM132.4 234.9h3.1v15.7h-3.1zM121.1 250.6h8.2v15.7h-8.2zM132.4 250.6h3.1v15.7h-3.1zM226.9 266.3h1.0v15.2h-1.0zM234.8 266.3h1.0v15.2h-1.0zM285.0 345.7h1.0v15.5h-1.0zM287.0 345.7h1.0v15.5h-1.0zM309.0 345.7h1.0v15.5h-1.0zM314.0 345.7h1.0v15.5h-1.0zM323.0 345.7h1.0v15.5h-1.0zM400.0 266.3h1.0v31.5h-1.0zM389.9 297.8h1.0v31.9h-1.0zM391.8 297.8h1.0v31.9h-1.0zM393.8 297.8h1.0v31.9h-1.0zM396.8 297.8h1.0v31.9h-1.0zM405.6 297.8h1.0v31.9h-1.0zM411.5 297.8h1.0v31.9h-1.0zM428.1 234.9h1.0v15.7h-1.0zM434.3 234.9h1.0v15.7h-1.0zM437.4 234.9h1.0v15.7h-1.0zM440.5 234.9h1.0v15.7h-1.0zM428.1 250.6h1.0v15.7h-1.0zM432.2 250.6h1.0v15.7h-1.0zM434.3 250.6h1.0v15.7h-1.0zM437.4 250.6h2.1v15.7h-2.1zM440.5 250.6h1.0v15.7h-1.0zM514.3 250.6h1.0v15.7h-1.0zM119.0 234.9h16.5v1h-16.5zM196.3 234.9h13.0v1h-13.0zM425.0 234.9h16.5v1h-16.5zM502.3 234.9h13.0v1h-13.0zM262.0 267.3h1.5v30.5h-1.5zM371.5 266.3h1.5v31.5h-1.5z"/>
<path fill="#ff0033" fill-opacity="0.5" d="M45.5 345.7h1.2v15.5h-1.2zM107.5 266.3h1.0v15.2h-1.0zM109.6 266.3h1.0v15.2h-1.0zM119.0 234.9h1.0v15.7h-1.0zM130.3 234.9h2.1v15.7h-2.1zM119.0 250.6h1.0v15.7h-1.0zM130.3 250.6h2.1v15.7h-2.1zM197.3 234.9h1.0v15.7h-1.0zM199.3 234.9h2.0v15.7h-2.0zM204.3 234.9h1.0v15.7h-1.0zM208.3 234.9h1.0v15.7h-1.0zM199.3 250.6h2.0v15.7h-2.0zM204.3 250.6h1.0v15.7h-1.0zM207.3 250.6h1.0v15.7h-1.0zM213.2 266.3h1.0v15.2h-1.0zM221.0 266.3h5.9v15.2h-5.9zM229.9 266.3h4.9v15.2h-4.9zM238.7 266.3h3.9v15.2h-3.9zM247.6 266.3h1.0v15.2h-1.0zM250.5 266.3h2.0v15.2h-2.0zM229.1 297.8h1.0v31.9h-1.0zM237.3 297.8h1.0v31.9h-1.0zM249.5 297.8h2.0v31.9h-2.0zM280.0 345.7h1.0v15.5h-1.0zM292.0 345.7h1.0v15.5h-1.0zM295.0 345.7h1.0v15.5h-1.0zM307.0 345.7h1.0v15.5h-1.0zM313.0 345.7h1.0v15.5h-1.0zM318.0 345.7h1.0v15.5h-1.0zM325.0 345.7h1.0v15.5h-1.0zM330.0 345.7h1.0v15.5h-1.0zM336.0 345.7h1.0v15.5h-1.0zM340.0 345.7h2.0v15.5h-2.0zM343.0 345.7h1.0v15.5h-1.0zM347.0 345.7h1.0v15.5h-1.0zM351.0 345.7h1.0v15.5h-1.0zM360.0 313.8h1.0v16.0h-1.0zM399.0 266.3h1.0v31.5h-1.0zM414.6 266.3h1.0v15.2h-1.0zM419.8 266.3h1.0v15.2h-1.0zM421.9 266.3h1.0v15.2h-1.0zM425.0 234.9h3.1v15.7h-3.1zM431.2 234.9h1.0v15.7h-1.0zM433.2 234.9h1.0v15.7h-1.0zM435.3 234.9h2.1v15.7h-2.1zM439.4 234.9h1.0v15.7h-1.0zM425.0 250.6h3.1v15.7h-3.1zM431.2 250.6h1.0v15.7h-1.0zM433.2 250.6h1.0v15.7h-1.0zM436.3 250.6h1.0v15.7h-1.0zM439.4 250.6h1.0v15.7h-1.0zM455.4 234.9h1.0v15.7h-1.0zM503.3 234.9h1.0v15.7h-1.0zM506.3 234.9h2.0v15.7h-2.0zM509.3 234.9h5.0v15.7h-5.0zM509.3 250.6h3.0v15.7h-3.0zM515.3 266.3h1.0v15.2h-1.0zM521.1 266.3h1.0v15.2h-1.0zM524.1 266.3h2.0v15.2h-2.0zM528.0 266.3h1.0v15.2h-1.0zM530.0 266.3h4.0v15.2h-4.0zM537.0 266.3h1.0v15.2h-1.0zM539.0 266.3h1.0v15.2h-1.0zM541.0 266.3h1.0v15.2h-1.0zM527.0 297.8h1.0v31.9h-1.0zM535.0 297.8h1.0v31.9h-1.0zM75.0 328.7h31.5v1h-31.5zM221.0 328.7h30.5v1h-30.5zM381.0 328.7h31.5v1h-31.5zM527.0 328.7h16.0v1h-16.0zM64.2 289.9h1.2v7.9h-1.2z"/>
<path fill="#ff0033" fill-opacity="0.6" d="M46.8 345.7h1.2v15.5h-1.2zM58.0 313.8h1.0v16.0h-1.0zM67.0 313.8h1.0v16.0h-1.0zM73.0 313.8h1.0v16.0h-1.0zM82.0 266.3h1.0v31.5h-1.0zM93.0 266.3h1.0v31.5h-1.0zM99.6 297.8h1.0v31.9h-1.0zM103.5 297.8h3.0v31.9h-3.0zM120.0 234.9h1.0v15.7h-1.0zM151.4 234.9h2.0v15.7h-2.0zM166.2 234.9h1.0v15.7h-1.0zM169.2 234.9h1.0v15.7h-1.0zM173.2 234.9h1.0v15.7h-1.0zM192.0 234.9h1.0v15.7h-1.0zM196.3 234.9h1.0v15.7h-1.0zM198.3 234.9h1.0v15.7h-1.0zM203.3 234.9h1.0v15.7h-1.0zM205.3 234.9h2.0v15.7h-2.0zM196.3 250.6h1.0v15.7h-1.0zM198.3 250.6h1.0v15.7h-1.0zM203.3 250.6h1.0v15.7h-1.0zM205.3 250.6h2.0v15.7h-2.0zM208.3 250.6h1.0v15.7h-1.0zM124.0 266.3h1.0v15.2h-1.0zM130.0 266.3h1.0v15.2h-1.0zM139.0 266.3h1.0v15.2h-1.0zM145.0 266.3h2.0v15.2h-2.0zM183.0 266.3h1.0v15.2h-1.0zM206.3 266.3h2.0v15.2h-2.0zM209.3 266.3h1.0v15.2h-1.0zM211.2 266.3h1.0v15.2h-1.0zM215.2 266.3h3.9v15.2h-3.9zM227.9 266.3h2.0v15.2h-2.0zM236.8 266.3h2.0v15.2h-2.0zM242.7 266.3h1.0v15.2h-1.0zM248.6 266.3h1.0v15.2h-1.0zM260.7 313.8h1.0v16.0h-1.0zM275.9 313.8h1.0v16.0h-1.0zM287.0 313.8h1.0v16.0h-1.0zM291.0 313.8h1.0v16.0h-1.0zM280.0 329.7h1.0v16.0h-1.0zM287.0 329.7h1.0v16.0h-1.0zM309.0 329.7h1.0v16.0h-1.0zM314.0 329.7h1.0v16.0h-1.0zM318.0 329.7h1.0v16.0h-1.0zM340.0 329.7h2.0v16.0h-2.0zM284.0 345.7h1.0v15.5h-1.0zM288.0 345.7h1.0v15.5h-1.0zM291.0 345.7h1.0v15.5h-1.0zM296.0 345.7h3.0v15.5h-3.0zM300.0 345.7h1.0v15.5h-1.0zM302.0 345.7h3.0v15.5h-3.0zM306.0 345.7h1.0v15.5h-1.0zM308.0 345.7h1.0v15.5h-1.0zM311.0 345.7h2.0v15.5h-2.0zM316.0 345.7h2.0v15.5h-2.0zM327.0 345.7h2.0v15.5h-2.0zM331.0 345.7h4.0v15.5h-4.0zM337.0 345.7h3.0v15.5h-3.0zM344.0 345.7h3.0v15.5h-3.0zM348.0 345.7h3.0v15.5h-3.0zM352.0 345.7h2.0v15.5h-2.0zM356.0 313.8h4.0v16.0h-4.0zM366.0 313.8h1.0v16.0h-1.0zM376.0 313.8h1.0v16.0h-1.0zM385.0 266.3h1.0v31.5h-1.0zM398.0 266.3h1.0v31.5h-1.0zM406.8 266.3h1.0v31.5h-1.0zM397.7 297.8h1.0v31.9h-1.0zM444.5 234.9h1.0v15.7h-1.0zM464.3 234.9h1.0v15.7h-1.0zM471.2 234.9h1.0v15.7h-1.0zM488.1 234.9h1.0v15.7h-1.0zM494.0 234.9h1.0v15.7h-1.0zM502.3 234.9h1.0v15.7h-1.0zM504.3 234.9h1.0v15.7h-1.0zM503.3 250.6h2.0v15.7h-2.0zM506.3 250.6h2.0v15.7h-2.0zM512.3 250.6h2.0v15.7h-2.0zM428.0 266.3h1.0v15.2h-1.0zM431.0 266.3h1.0v15.2h-1.0zM434.0 266.3h1.0v15.2h-1.0zM442.0 266.3h1.0v15.2h-1.0zM452.0 266.3h1.0v15.2h-1.0zM488.0 266.3h1.0v15.2h-1.0zM505.2 266.3h1.0v15.2h-1.0zM513.3 266.3h1.0v15.2h-1.0zM516.3 266.3h1.0v15.2h-1.0zM518.2 266.3h2.0v15.2h-2.0zM527.0 266.3h1.0v15.2h-1.0zM529.0 266.3h1.0v15.2h-1.0zM534.0 266.3h1.0v15.2h-1.0zM536.0 266.3h1.0v15.2h-1.0zM538.0 266.3h1.0v15.2h-1.0zM540.0 266.3h1.0v15.2h-1.0zM542.0 266.3h1.0v15.2h-1.0zM56.2 297.8h3.6v62.8h-3.6zM62.7 297.8h1.2v56.8h-1.2zM268.4 297.8h2.0v61.8h-2.0zM365.3 297.8h1.4v61.8h-1.4z"/>
<path fill="#ff0033" fill-opacity="0.7" d="M50.0 313.8h1.0v16.0h-1.0zM52.0 313.8h3.0v16.0h-3.0zM57.0 313.8h1.0v16.0h-1.0zM60.0 313.8h5.0v16.0h-5.0zM66.0 313.8h1.0v16.0h-1.0zM68.0 313.8h2.0v16.0h-2.0zM71.0 313.8h2.0v16.0h-2.0zM106.5 266.3h1.0v15.2h-1.0zM110.7 266.3h2.1v15.2h-2.1zM113.8 266.3h4.2v15.2h-4.2zM120.0 250.6h1.0v15.7h-1.0zM142.4 234.9h1.0v15.7h-1.0zM144.4 234.9h1.0v15.7h-1.0zM146.4 234.9h2.0v15.7h-2.0zM155.3 234.9h2.0v15.7h-2.0zM158.3 234.9h4.0v15.7h-4.0zM165.2 234.9h1.0v15.7h-1.0zM167.2 234.9h2.0v15.7h-2.0zM170.2 234.9h1.0v15.7h-1.0zM180.1 234.9h1.0v15.7h-1.0zM183.1 234.9h1.0v15.7h-1.0zM191.0 234.9h1.0v15.7h-1.0zM151.4 250.6h2.0v15.7h-2.0zM173.2 250.6h1.0v15.7h-1.0zM192.0 250.6h1.0v15.7h-1.0zM201.3 234.9h2.0v15.7h-2.0zM197.3 250.6h1.0v15.7h-1.0zM201.3 250.6h2.0v15.7h-2.0zM120.0 266.3h1.0v15.2h-1.0zM122.0 266.3h2.0v15.2h-2.0zM127.0 266.3h2.0v15.2h-2.0zM131.0 266.3h2.0v15.2h-2.0zM138.0 266.3h1.0v15.2h-1.0zM140.0 266.3h1.0v15.2h-1.0zM143.0 266.3h2.0v15.2h-2.0zM147.0 266.3h1.0v15.2h-1.0zM180.0 266.3h3.0v15.2h-3.0zM185.1 266.3h5.1v15.2h-5.1zM193.1 266.3h3.0v15.2h-3.0zM198.2 266.3h4.0v15.2h-4.0zM205.3 266.3h1.0v15.2h-1.0zM208.3 266.3h1.0v15.2h-1.0zM235.8 266.3h1.0v15.2h-1.0zM243.6 266.3h3.9v15.2h-3.9zM249.5 266.3h1.0v15.2h-1.0zM254.6 313.8h2.0v16.0h-2.0zM258.6 313.8h2.0v16.0h-2.0zM261.7 313.8h1.0v16.0h-1.0zM263.7 313.8h8.1v16.0h-8.1zM276.9 313.8h2.0v16.0h-2.0zM281.0 345.7h3.0v15.5h-3.0zM286.0 345.7h1.0v15.5h-1.0zM289.0 345.7h2.0v15.5h-2.0zM293.0 345.7h2.0v15.5h-2.0zM299.0 345.7h1.0v15.5h-1.0zM301.0 345.7h1.0v15.5h-1.0zM305.0 345.7h1.0v15.5h-1.0zM310.0 345.7h1.0v15.5h-1.0zM315.0 345.7h1.0v15.5h-1.0zM319.0 345.7h4.0v15.5h-4.0zM324.0 345.7h1.0v15.5h-1.0zM326.0 345.7h1.0v15.5h-1.0zM329.0 345.7h1.0v15.5h-1.0zM335.0 345.7h1.0v15.5h-1.0zM342.0 345.7h1.0v15.5h-1.0zM354.0 313.8h2.0v16.0h-2.0zM361.0 313.8h3.0v16.0h-3.0zM367.0 313.8h4.0v16.0h-4.0zM377.0 313.8h4.0v16.0h-4.0zM412.5 266.3h2.1v15.2h-2.1zM415.6 266.3h4.2v15.2h-4.2zM420.8 266.3h1.0v15.2h-1.0zM422.9 266.3h2.1v15.2h-2.1zM435.3 250.6h1.0v15.7h-1.0zM445.5 234.9h5.0v15.7h-5.0zM456.4 234.9h2.0v15.7h-2.0zM460.3 234.9h1.0v15.7h-1.0zM462.3 234.9h2.0v15.7h-2.0zM465.3 234.9h2.0v15.7h-2.0zM473.2 234.9h1.0v15.7h-1.0zM478.2 234.9h3.0v15.7h-3.0zM490.1 234.9h2.0v15.7h-2.0zM495.0 234.9h2.0v15.7h-2.0zM455.4 250.6h1.0v15.7h-1.0zM471.2 250.6h1.0v15.7h-1.0zM494.0 250.6h1.0v15.7h-1.0zM505.3 234.9h1.0v15.7h-1.0zM508.3 234.9h1.0v15.7h-1.0zM502.3 250.6h1.0v15.7h-1.0zM505.3 250.6h1.0v15.7h-1.0zM508.3 250.6h1.0v15.7h-1.0zM427.0 266.3h1.0v15.2h-1.0zM430.0 266.3h1.0v15.2h-1.0zM436.0 266.3h2.0v15.2h-2.0zM439.0 266.3h2.0v15.2h-2.0zM443.0 266.3h1.0v15.2h-1.0zM446.0 266.3h1.0v15.2h-1.0zM448.0 266.3h4.0v15.2h-4.0zM453.0 266.3h1.0v15.2h-1.0zM489.0 266.3h1.0v15.2h-1.0zM492.1 266.3h2.0v15.2h-2.0zM495.1 266.3h3.0v15.2h-3.0zM503.2 266.3h2.0v15.2h-2.0zM506.2 266.3h2.0v15.2h-2.0zM509.2 266.3h1.0v15.2h-1.0zM535.0 266.3h1.0v15.2h-1.0z"/>
<path fill="#ff0033" fill-opacity="0.8" d="M48.0 313.8h2.0v16.0h-2.0zM51.0 313.8h1.0v16.0h-1.0zM55.0 313.8h2.0v16.0h-2.0zM59.0 313.8h1.0v16.0h-1.0zM65.0 313.8h1.0v16.0h-1.0zM70.0 313.8h1.0v16.0h-1.0zM74.0 313.8h1.0v16.0h-1.0zM76.0 266.3h4.0v31.5h-4.0zM81.0 266.3h1.0v31.5h-1.0zM86.0 266.3h2.0v31.5h-2.0zM90.0 266.3h1.0v31.5h-1.0zM92.0 266.3h1.0v31.5h-1.0zM96.0 266.3h1.0v31.5h-1.0zM100.8 266.3h1.9v31.5h-1.9zM103.6 266.3h1.9v31.5h-1.9zM108.6 266.3h1.0v15.2h-1.0zM112.8 266.3h1.0v15.2h-1.0zM118.0 266.3h1.0v15.2h-1.0zM146.4 250.6h2.0v15.7h-2.0zM155.3 250.6h2.0v15.7h-2.0zM158.3 250.6h4.0v15.7h-4.0zM165.2 250.6h2.0v15.7h-2.0zM168.2 250.6h3.0v15.7h-3.0zM180.1 250.6h1.0v15.7h-1.0zM183.1 250.6h1.0v15.7h-1.0zM191.0 250.6h1.0v15.7h-1.0zM119.0 266.3h1.0v15.2h-1.0zM121.0 266.3h1.0v15.2h-1.0zM125.0 266.3h2.0v15.2h-2.0zM129.0 266.3h1.0v15.2h-1.0zM133.0 266.3h5.0v15.2h-5.0zM141.0 266.3h2.0v15.2h-2.0zM184.0 266.3h1.0v15.2h-1.0zM190.1 266.3h3.0v15.2h-3.0zM196.2 266.3h2.0v15.2h-2.0zM202.2 266.3h3.0v15.2h-3.0zM210.3 266.3h1.0v15.2h-1.0zM212.2 266.3h1.0v15.2h-1.0zM214.2 266.3h1.0v15.2h-1.0zM219.1 266.3h1.9v15.2h-1.9zM213.2 281.6h1.0v16.2h-1.0zM223.0 281.6h1.0v16.2h-1.0zM230.8 281.6h1.0v16.2h-1.0zM232.8 281.6h3.0v16.2h-3.0zM240.7 281.6h2.0v16.2h-2.0zM250.5 281.6h1.0v16.2h-1.0zM251.5 313.8h3.1v16.0h-3.1zM256.6 313.8h2.0v16.0h-2.0zM262.7 313.8h1.0v16.0h-1.0zM271.9 313.8h4.1v16.0h-4.1zM279.0 313.8h1.0v16.0h-1.0zM283.0 313.8h2.0v16.0h-2.0zM286.0 313.8h1.0v16.0h-1.0zM288.0 313.8h1.0v16.0h-1.0zM296.0 313.8h1.0v16.0h-1.0zM316.0 313.8h1.0v16.0h-1.0zM324.0 313.8h2.0v16.0h-2.0zM331.0 313.8h1.0v16.0h-1.0zM336.0 313.8h1.0v16.0h-1.0zM348.0 313.8h1.0v16.0h-1.0zM292.0 329.7h1.0v16.0h-1.0zM296.0 329.7h3.0v16.0h-3.0zM304.0 329.7h1.0v16.0h-1.0zM306.0 329.7h2.0v16.0h-2.0zM311.0 329.7h3.0v16.0h-3.0zM316.0 329.7h1.0v16.0h-1.0zM323.0 329.7h1.0v16.0h-1.0zM327.0 329.7h2.0v16.0h-2.0zM330.0 329.7h1.0v16.0h-1.0zM333.0 329.7h2.0v16.0h-2.0zM343.0 329.7h3.0v16.0h-3.0zM347.0 329.7h3.0v16.0h-3.0zM351.0 329.7h1.0v16.0h-1.0zM364.0 313.8h2.0v16.0h-2.0zM371.0 313.8h5.0v16.0h-5.0zM383.0 266.3h1.0v31.5h-1.0zM386.0 266.3h2.0v31.5h-2.0zM391.0 266.3h1.0v31.5h-1.0zM393.0 266.3h3.0v31.5h-3.0zM403.9 266.3h1.0v31.5h-1.0zM410.6 266.3h1.0v31.5h-1.0zM444.5 250.6h1.0v15.7h-1.0zM447.4 250.6h3.0v15.7h-3.0zM456.4 250.6h2.0v15.7h-2.0zM460.3 250.6h1.0v15.7h-1.0zM465.3 250.6h2.0v15.7h-2.0zM473.2 250.6h1.0v15.7h-1.0zM488.1 250.6h1.0v15.7h-1.0zM490.1 250.6h2.0v15.7h-2.0zM425.0 266.3h2.0v15.2h-2.0zM429.0 266.3h1.0v15.2h-1.0zM432.0 266.3h2.0v15.2h-2.0zM435.0 266.3h1.0v15.2h-1.0zM438.0 266.3h1.0v15.2h-1.0zM441.0 266.3h1.0v15.2h-1.0zM444.0 266.3h2.0v15.2h-2.0zM447.0 266.3h1.0v15.2h-1.0zM486.0 266.3h2.0v15.2h-2.0zM490.0 266.3h2.0v15.2h-2.0zM494.1 266.3h1.0v15.2h-1.0zM498.1 266.3h5.1v15.2h-5.1zM508.2 266.3h1.0v15.2h-1.0zM510.2 266.3h3.0v15.2h-3.0zM514.3 266.3h1.0v15.2h-1.0zM517.2 266.3h1.0v15.2h-1.0zM520.2 266.3h1.0v15.2h-1.0zM522.1 266.3h2.0v15.2h-2.0zM526.0 266.3h1.0v15.2h-1.0zM518.2 281.6h1.0v16.2h-1.0zM537.0 281.6h1.0v16.2h-1.0zM541.0 281.6h1.0v16.2h-1.0zM45.6 297.8h2.2v63.8h-2.2zM351.6 297.8h2.2v63.8h-2.2z"/>
<path fill="#ff0033" fill-opacity="0.9" d="M45.5 329.7h2.5v16.0h-2.5zM54.0 297.8h1.0v16.0h-1.0zM75.0 266.3h1.0v31.5h-1.0zM80.0 266.3h1.0v31.5h-1.0zM83.0 266.3h3.0v31.5h-3.0zM88.0 266.3h2.0v31.5h-2.0zM91.0 266.3h1.0v31.5h-1.0zM95.0 266.3h1.0v31.5h-1.0zM96.9 266.3h3.8v31.5h-3.8zM102.7 266.3h1.0v31.5h-1.0zM105.5 266.3h1.0v31.5h-1.0zM110.7 281.6h2.1v16.2h-2.1zM135.5 234.9h6.9v15.7h-6.9zM143.4 234.9h1.0v15.7h-1.0zM145.4 234.9h1.0v15.7h-1.0zM148.4 234.9h3.0v15.7h-3.0zM153.3 234.9h2.0v15.7h-2.0zM157.3 234.9h1.0v15.7h-1.0zM162.3 234.9h3.0v15.7h-3.0zM171.2 234.9h2.0v15.7h-2.0zM174.2 234.9h5.9v15.7h-5.9zM181.1 234.9h2.0v15.7h-2.0zM184.1 234.9h6.9v15.7h-6.9zM135.5 250.6h10.9v15.7h-10.9zM148.4 250.6h3.0v15.7h-3.0zM153.3 250.6h2.0v15.7h-2.0zM157.3 250.6h1.0v15.7h-1.0zM162.3 250.6h3.0v15.7h-3.0zM167.2 250.6h1.0v15.7h-1.0zM171.2 250.6h2.0v15.7h-2.0zM174.2 250.6h5.9v15.7h-5.9zM181.1 250.6h2.0v15.7h-2.0zM184.1 250.6h6.9v15.7h-6.9zM154.0 266.3h2.0v15.2h-2.0zM167.0 266.3h1.0v15.2h-1.0zM128.0 281.6h1.0v16.2h-1.0zM166.2 281.6h2.0v16.2h-2.0zM180.2 281.6h1.0v16.2h-1.0zM186.2 281.6h1.0v16.2h-1.0zM258.6 297.8h2.0v16.0h-2.0zM275.9 297.8h1.0v16.0h-1.0zM314.0 297.8h1.0v16.0h-1.0zM280.0 313.8h3.0v16.0h-3.0zM285.0 313.8h1.0v16.0h-1.0zM289.0 313.8h2.0v16.0h-2.0zM292.0 313.8h1.0v16.0h-1.0zM281.0 329.7h6.0v16.0h-6.0zM288.0 329.7h4.0v16.0h-4.0zM293.0 329.7h3.0v16.0h-3.0zM299.0 329.7h5.0v16.0h-5.0zM305.0 329.7h1.0v16.0h-1.0zM308.0 329.7h1.0v16.0h-1.0zM310.0 329.7h1.0v16.0h-1.0zM315.0 329.7h1.0v16.0h-1.0zM317.0 329.7h1.0v16.0h-1.0zM319.0 329.7h4.0v16.0h-4.0zM324.0 329.7h3.0v16.0h-3.0zM329.0 329.7h1.0v16.0h-1.0zM331.0 329.7h2.0v16.0h-2.0zM335.0 329.7h5.0v16.0h-5.0zM342.0 329.7h1.0v16.0h-1.0zM346.0 329.7h1.0v16.0h-1.0zM350.0 329.7h1.0v16.0h-1.0zM352.0 329.7h2.0v16.0h-2.0zM355.0 297.8h1.0v16.0h-1.0zM360.0 297.8h2.0v16.0h-2.0zM381.0 266.3h2.0v31.5h-2.0zM384.0 266.3h1.0v31.5h-1.0zM388.0 266.3h3.0v31.5h-3.0zM392.0 266.3h1.0v31.5h-1.0zM396.0 266.3h2.0v31.5h-2.0zM401.0 266.3h2.9v31.5h-2.9zM404.8 266.3h1.9v31.5h-1.9zM407.7 266.3h2.9v31.5h-2.9zM411.5 266.3h1.0v31.5h-1.0zM414.6 281.6h1.0v16.2h-1.0zM419.8 281.6h1.0v16.2h-1.0zM421.9 281.6h1.0v16.2h-1.0zM441.5 234.9h3.0v15.7h-3.0zM450.4 234.9h5.0v15.7h-5.0zM458.4 234.9h2.0v15.7h-2.0zM461.3 234.9h1.0v15.7h-1.0zM467.3 234.9h4.0v15.7h-4.0zM472.2 234.9h1.0v15.7h-1.0zM474.2 234.9h4.0v15.7h-4.0zM481.2 234.9h6.9v15.7h-6.9zM489.1 234.9h1.0v15.7h-1.0zM492.1 234.9h2.0v15.7h-2.0zM497.0 234.9h2.0v15.7h-2.0zM441.5 250.6h3.0v15.7h-3.0zM445.5 250.6h2.0v15.7h-2.0zM450.4 250.6h5.0v15.7h-5.0zM458.4 250.6h2.0v15.7h-2.0zM461.3 250.6h4.0v15.7h-4.0zM467.3 250.6h4.0v15.7h-4.0zM472.2 250.6h1.0v15.7h-1.0zM474.2 250.6h13.9v15.7h-13.9zM489.1 250.6h1.0v15.7h-1.0zM492.1 250.6h2.0v15.7h-2.0zM495.0 250.6h4.0v15.7h-4.0zM465.0 266.3h1.0v15.2h-1.0zM469.0 266.3h1.0v15.2h-1.0zM471.0 266.3h1.0v15.2h-1.0zM481.0 266.3h1.0v15.2h-1.0zM474.2 281.6h2.0v16.2h-2.0zM479.2 281.6h1.0v16.2h-1.0zM487.2 281.6h1.0v16.2h-1.0z"/>
<path fill="#ff0033" fill-opacity="1" d="M45.5 297.8h2.5v16.0h-2.5zM45.5 313.8h2.5v16.0h-2.5zM48.0 297.8h6.0v16.0h-6.0zM55.0 297.8h20.0v16.0h-20.0zM106.5 281.6h4.2v16.2h-4.2zM112.8 281.6h6.2v16.2h-6.2zM148.0 266.3h6.0v15.2h-6.0zM156.0 266.3h11.0v15.2h-11.0zM168.0 266.3h12.0v15.2h-12.0zM119.0 281.6h9.0v16.2h-9.0zM129.0 281.6h37.1v16.2h-37.1zM168.2 281.6h12.0v16.2h-12.0zM181.2 281.6h5.0v16.2h-5.0zM187.2 281.6h22.1v16.2h-22.1zM209.3 281.6h3.9v16.2h-3.9zM214.2 281.6h6.8v16.2h-6.8zM221.0 281.6h2.0v16.2h-2.0zM224.0 281.6h6.9v16.2h-6.9zM231.8 281.6h1.0v16.2h-1.0zM235.8 281.6h4.9v16.2h-4.9zM242.7 281.6h7.9v16.2h-7.9zM251.5 281.6h1.0v16.2h-1.0zM251.5 297.8h7.1v16.0h-7.1zM260.7 297.8h15.3v16.0h-15.3zM276.9 297.8h3.1v16.0h-3.1zM280.0 297.8h34.0v16.0h-34.0zM315.0 297.8h39.0v16.0h-39.0zM293.0 313.8h3.0v16.0h-3.0zM297.0 313.8h19.0v16.0h-19.0zM317.0 313.8h7.0v16.0h-7.0zM326.0 313.8h5.0v16.0h-5.0zM332.0 313.8h4.0v16.0h-4.0zM337.0 313.8h11.0v16.0h-11.0zM349.0 313.8h5.0v16.0h-5.0zM354.0 297.8h1.0v16.0h-1.0zM356.0 297.8h4.0v16.0h-4.0zM362.0 297.8h19.0v16.0h-19.0zM412.5 281.6h2.1v16.2h-2.1zM415.6 281.6h4.2v16.2h-4.2zM420.8 281.6h1.0v16.2h-1.0zM422.9 281.6h2.1v16.2h-2.1zM454.0 266.3h11.0v15.2h-11.0zM466.0 266.3h3.0v15.2h-3.0zM470.0 266.3h1.0v15.2h-1.0zM472.0 266.3h9.0v15.2h-9.0zM482.0 266.3h4.0v15.2h-4.0zM425.0 281.6h49.2v16.2h-49.2zM476.2 281.6h3.0v16.2h-3.0zM480.2 281.6h7.0v16.2h-7.0zM488.2 281.6h27.1v16.2h-27.1zM515.3 281.6h2.9v16.2h-2.9zM519.2 281.6h7.8v16.2h-7.8zM527.0 281.6h10.0v16.2h-10.0zM538.0 281.6h3.0v16.2h-3.0zM542.0 281.6h1.0v16.2h-1.0z"/>
<rect x="182.2" y="297.8" width="1.0" height="97.2" fill="#ff0033" fill-opacity="0.45"/>
<rect x="190.8" y="297.8" width="1.0" height="32.2" fill="#ff0033" fill-opacity="0.45"/>
<rect x="411.8" y="297.8" width="1.0" height="97.2" fill="#ff0033" fill-opacity="0.50"/>
<rect x="434.6" y="297.8" width="1.0" height="97.2" fill="#ff0033" fill-opacity="0.55"/>
<rect x="495.2" y="213.0" width="1.0" height="22.0" fill="#ff0033" fill-opacity="0.40"/>
</g>
<text x="212.8" y="236.8" class="ann">0.66 pu <tspan class="n">(2V</tspan><tspan class="n s" dy="1.4">DC</tspan><tspan class="n" dy="-1.4">/3)</tspan></text>
<text x="257" y="264.8" class="ann">0.33pu <tspan class="n">(V</tspan><tspan class="n s" dy="1.4">DC</tspan><tspan class="n" dy="-1.4">/3)</tspan></text>
<text class="cap c2" y="381.6"><tspan x="227.3" textLength="74.4" lengthAdjust="spacingAndGlyphs">Load voltage</tspan> <tspan x="306" textLength="7.8">v</tspan><tspan class="sub" x="315.6" y="385" textLength="10.2" lengthAdjust="spacingAndGlyphs">La</tspan></text>
</g>
</svg>
</body></html>
